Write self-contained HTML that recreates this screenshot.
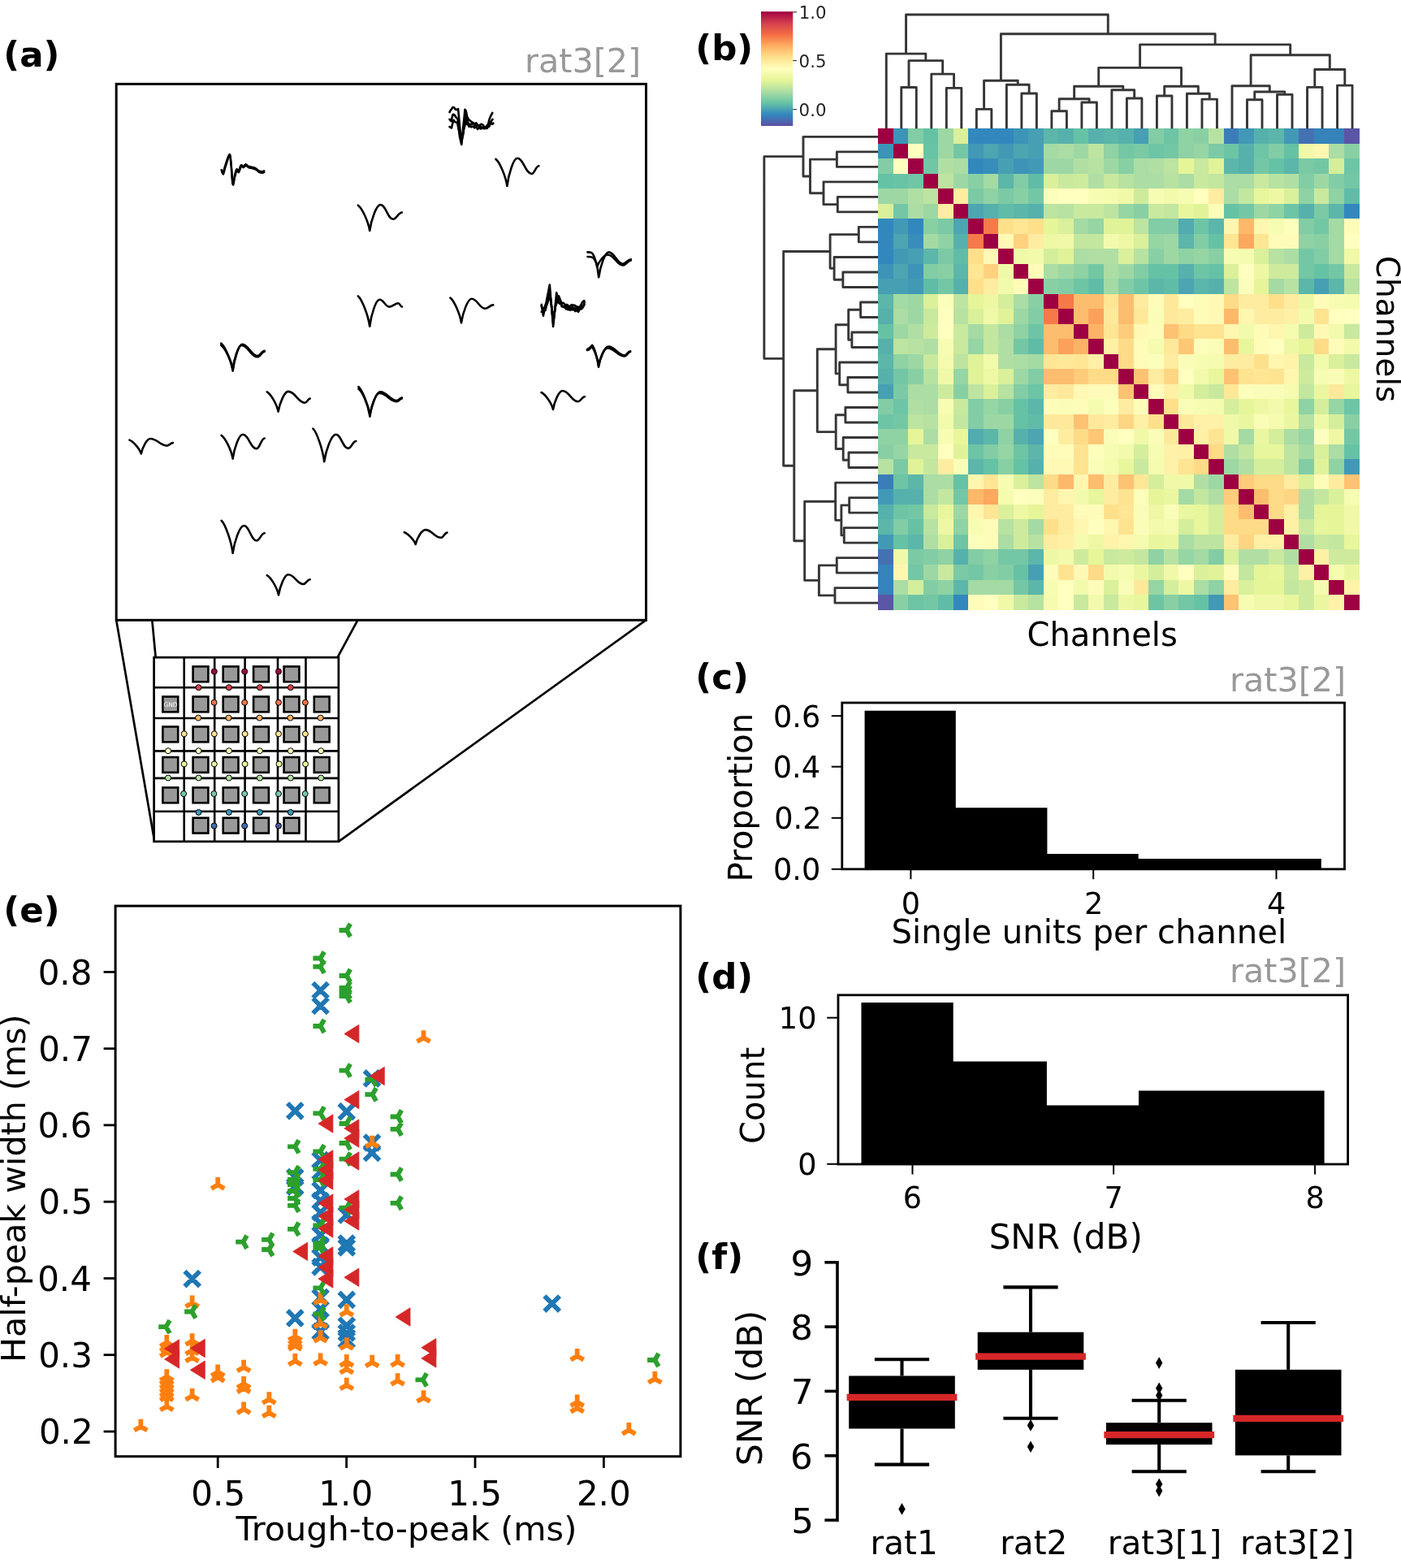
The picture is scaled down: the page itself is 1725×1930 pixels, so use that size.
<!DOCTYPE html>
<html><head><meta charset="utf-8"><title>Figure</title>
<style>html,body{margin:0;padding:0;background:#fff;}svg{display:block;}</style>
</head><body>
<svg xmlns="http://www.w3.org/2000/svg" width="1725" height="1930" viewBox="0 0 1725 1930">
<rect width="1725" height="1930" fill="#fff"/>
<rect x="143.2" y="103.4" width="652.3" height="659.9" fill="none" stroke="#000" stroke-width="3.0"/>
<g fill="none" stroke="#000" stroke-width="2.6" stroke-linejoin="round" stroke-linecap="round">
<path d="M610.50,195.90 C614.95,199.21 622.59,216.42 624.40,229.00 C626.16,214.64 632.21,194.80 637.00,194.80 C644.39,194.80 647.21,214.00 654.60,214.00 C658.12,214.00 659.88,204.30 663.40,204.30"/>
<path d="M440.90,252.70 C445.48,255.83 453.34,272.11 455.20,284.00 C457.06,270.56 463.45,252.00 468.50,252.00 C474.97,252.00 477.43,269.70 483.90,269.70 C488.30,269.70 490.50,261.50 494.90,261.50"/>
<path d="M723.50,310.40 L727.00,310.60 C731.59,310.60 735.87,327.49 737.20,341.30 C738.92,328.32 744.83,310.40 749.50,310.40 C756.81,310.40 759.59,324.80 766.90,324.80 C770.86,324.80 772.84,319.30 776.80,319.30"/>
<path d="M723.50,316.00 L727.50,316.20 C731.10,316.20 734.46,322.69 735.50,328.00 C737.32,321.91 743.56,313.50 748.50,313.50 C756.23,313.50 759.17,326.50 766.90,326.50 C770.86,326.50 772.84,320.50 776.80,320.50"/>
<path d="M440.90,364.40 C445.48,368.14 453.34,387.59 455.20,401.80 C456.91,387.94 462.76,368.80 467.40,368.80 C472.48,368.80 474.42,377.60 479.50,377.60 C483.90,377.60 486.10,373.20 490.50,373.20 C492.26,373.20 493.14,377.60 494.90,377.60"/>
<path d="M554.40,366.60 C558.75,369.68 566.23,385.70 568.00,397.40 C569.79,384.93 575.94,367.70 580.80,367.70 C587.73,367.70 590.37,379.80 597.30,379.80 C601.26,379.80 603.24,375.40 607.20,375.40"/>
<path d="M272.20,422.60 C276.81,426.00 284.73,443.68 286.60,456.60 C288.24,442.78 293.85,423.70 298.30,423.70 C306.07,423.70 309.03,438.10 316.80,438.10 C320.36,438.10 322.14,431.90 325.70,431.90"/>
<path d="M272.20,425.00 C276.81,428.00 284.73,443.60 286.60,455.00 C288.13,442.40 293.36,425.00 297.50,425.00 C305.61,425.00 308.69,439.30 316.80,439.30 C320.36,439.30 322.14,432.80 325.70,432.80"/>
<path d="M723.00,430.00 C723.42,429.75 724.48,429.37 725.50,428.50 C726.52,427.63 728.50,425.42 729.10,424.80 C731.63,427.49 735.97,441.48 737.00,451.70 C738.69,441.12 744.50,426.50 749.10,426.50 C757.50,426.50 760.70,437.50 769.10,437.50 C771.90,437.50 773.30,432.30 776.10,432.30"/>
<path d="M723.00,431.00 C723.42,430.83 724.58,430.75 725.50,430.00 C726.42,429.25 728.00,427.08 728.50,426.50 C731.22,428.85 735.89,441.07 737.00,450.00 C738.54,440.97 743.82,428.50 748.00,428.50 C756.86,428.50 760.24,438.50 769.10,438.50 C771.90,438.50 773.30,433.00 776.10,433.00"/>
<path d="M328.80,482.30 C333.22,484.73 340.81,497.37 342.60,506.60 C344.32,496.23 350.23,481.90 354.90,481.90 C363.55,481.90 366.85,495.70 375.50,495.70 C377.98,495.70 379.22,490.60 381.70,490.60"/>
<path d="M441.40,476.10 C445.88,479.77 453.58,498.85 455.40,512.80 C457.18,499.99 463.27,482.30 468.10,482.30 C476.75,482.30 480.05,493.00 488.70,493.00 C491.18,493.00 492.42,489.50 494.90,489.50"/>
<path d="M441.40,478.50 C445.88,481.75 453.58,498.65 455.40,511.00 C457.07,499.66 462.78,484.00 467.30,484.00 C476.29,484.00 479.71,494.30 488.70,494.30 C491.18,494.30 492.42,490.50 494.90,490.50"/>
<path d="M666.50,483.00 C671.14,485.09 679.12,495.96 681.00,503.90 C682.62,494.28 688.19,481.00 692.60,481.00 C700.62,481.00 703.68,494.30 711.70,494.30 C714.98,494.30 716.62,488.30 719.90,488.30"/>
<path d="M159.40,541.60 C164.01,543.29 171.93,552.08 173.80,558.50 C175.38,550.73 180.81,540.00 185.10,540.00 C193.75,540.00 197.05,548.60 205.70,548.60 C208.58,548.60 210.02,545.10 212.90,545.10"/>
<path d="M272.60,535.80 C277.08,538.68 284.78,553.66 286.60,564.60 C288.32,552.08 294.23,534.80 298.90,534.80 C306.00,534.80 308.70,552.30 315.80,552.30 C319.76,552.30 321.74,539.50 325.70,539.50"/>
<path d="M385.40,527.60 C389.82,531.67 397.41,552.83 399.20,568.30 C401.22,554.23 408.13,534.80 413.60,534.80 C419.90,534.80 422.30,551.90 428.60,551.90 C432.48,551.90 434.42,543.00 438.30,543.00"/>
<path d="M272.60,640.80 C277.08,644.81 284.78,665.66 286.60,680.90 C288.53,666.66 295.16,647.00 300.40,647.00 C306.87,647.00 309.33,665.50 315.80,665.50 C319.76,665.50 321.74,656.20 325.70,656.20"/>
<path d="M497.80,655.20 C502.25,656.68 509.89,664.38 511.70,670.00 C513.41,662.48 519.26,652.10 523.90,652.10 C531.92,652.10 534.98,661.80 543.00,661.80 C546.00,661.80 547.50,655.60 550.50,655.60"/>
<path d="M328.80,708.10 C333.34,710.53 341.15,723.17 343.00,732.40 C344.67,721.86 350.38,707.30 354.90,707.30 C362.67,707.30 365.63,719.00 373.40,719.00 C376.72,719.00 378.38,713.20 381.70,713.20"/>
<path d="M272.70,209.20 C273.03,209.82 273.95,213.70 274.70,212.90 C275.45,212.10 275.90,208.20 277.20,204.40 C278.50,200.60 281.28,190.45 282.50,190.10 C283.72,189.75 283.83,196.33 284.50,202.30 C285.17,208.27 285.77,223.53 286.50,225.90 C287.23,228.27 288.08,219.42 288.90,216.50 C289.72,213.58 290.58,209.35 291.40,208.40 C292.22,207.45 292.92,211.62 293.80,210.80 C294.68,209.98 295.75,204.50 296.70,203.50 C297.65,202.50 298.50,205.00 299.50,204.80 C300.50,204.60 301.68,202.30 302.70,202.30 C303.72,202.30 304.23,204.18 305.60,204.80 C306.97,205.42 309.28,205.53 310.90,206.00 C312.52,206.47 314.02,206.87 315.30,207.60 C316.58,208.33 317.32,209.78 318.60,210.40 C319.88,211.02 321.92,211.30 323.00,211.30 C324.08,211.30 324.75,210.55 325.10,210.40"/>
<path d="M273.00,210.70 C273.33,211.32 274.25,215.20 275.00,214.40 C275.75,213.60 276.20,209.70 277.50,205.90 C278.80,202.10 281.58,191.95 282.80,191.60 C284.02,191.25 284.13,197.83 284.80,203.80 C285.47,209.77 286.07,225.03 286.80,227.40 C287.53,229.77 288.38,220.92 289.20,218.00 C290.02,215.08 290.88,210.85 291.70,209.90 C292.52,208.95 293.22,213.12 294.10,212.30 C294.98,211.48 296.05,206.00 297.00,205.00 C297.95,204.00 298.80,206.50 299.80,206.30 C300.80,206.10 301.98,203.80 303.00,203.80 C304.02,203.80 304.53,205.68 305.90,206.30 C307.27,206.92 309.58,207.03 311.20,207.50 C312.82,207.97 314.32,208.37 315.60,209.10 C316.88,209.83 317.62,211.28 318.90,211.90 C320.18,212.52 322.22,212.80 323.30,212.80 C324.38,212.80 325.05,212.05 325.40,211.90" stroke-width="2.2"/>
<path d="M553.50,138.19 L554.75,135.82 L556.00,134.20 L557.50,131.99 L559.00,132.31 L561.00,134.84 L562.55,134.90 L564.10,134.12 L566.50,160.05 L568.30,177.95 L570.00,159.35 L571.25,147.93 L572.50,134.79 L573.75,136.57 L575.00,142.94 L577.00,147.27 L578.50,148.19 L580.00,149.44 L581.25,150.95 L582.50,150.89 L583.75,151.98 L585.00,152.42 L586.25,151.30 L587.50,153.20 L588.75,154.00 L590.00,154.22 L591.25,153.79 L592.50,152.82 L593.75,153.21 L595.00,154.05 L596.70,157.15 L598.40,156.49 L599.70,154.15 L601.00,153.04 L602.50,147.02 L604.00,143.13 L606.30,138.83"/>
<path d="M553.50,146.88 L555.50,149.16 L557.50,141.10 L558.75,140.91 L560.00,142.02 L561.75,144.73 L563.50,146.18 L564.75,157.53 L566.00,168.34 L568.00,176.76 L569.25,169.44 L570.50,164.49 L571.75,151.44 L573.00,140.81 L574.25,145.50 L575.50,148.81 L576.75,152.25 L578.00,153.21 L579.33,152.73 L580.67,152.97 L582.00,152.11 L583.25,152.24 L584.50,154.07 L585.75,153.35 L587.00,154.19 L588.25,154.58 L589.50,154.28 L590.75,155.66 L592.00,155.85 L593.25,157.39 L594.50,157.05 L595.75,157.86 L597.00,158.00 L598.50,157.42 L600.00,155.89 L601.50,152.42 L603.00,151.29 L604.75,149.29 L606.50,146.88"/>
<path d="M553.50,155.93 L554.75,156.91 L556.00,157.43 L557.25,152.07 L558.50,147.73 L559.75,149.67 L561.00,150.41 L563.00,150.81 L564.50,158.00 L566.00,165.26 L568.30,172.15 L569.65,166.42 L571.00,159.08 L572.25,154.84 L573.50,149.12 L574.75,153.06 L576.00,152.85 L577.50,155.83 L579.00,154.89 L580.33,156.49 L581.67,155.58 L583.00,155.75 L584.25,157.39 L585.50,155.75 L586.75,156.36 L588.00,159.08 L589.25,157.77 L590.50,156.44 L591.75,158.52 L593.00,158.16 L594.33,156.66 L595.67,158.13 L597.00,158.05 L598.33,157.85 L599.67,157.98 L601.00,156.13 L602.33,155.85 L603.67,152.50 L605.00,151.15 L606.25,152.82 L607.50,151.74"/>
<path d="M666.70,374.92 L668.90,388.65 L671.00,379.07 L672.25,374.62 L673.50,367.04 L675.15,359.04 L676.80,350.62 L679.00,376.49 L681.10,401.99 L683.00,383.68 L685.20,360.35 L686.60,365.33 L688.00,364.41 L689.50,368.28 L691.00,373.80 L692.33,372.80 L693.67,372.83 L695.00,374.27 L696.25,376.88 L697.50,374.84 L698.75,375.46 L700.00,376.51 L701.25,377.47 L702.50,376.47 L703.75,375.08 L705.00,377.29 L706.25,375.39 L707.50,375.88 L708.75,376.51 L710.00,378.77 L711.33,377.47 L712.67,379.43 L714.00,377.65 L715.50,374.97 L717.00,372.09 L719.30,370.02"/>
<path d="M666.70,376.66 L668.50,382.76 L669.75,380.04 L671.00,376.92 L672.25,373.36 L673.50,373.17 L675.00,364.73 L676.50,355.05 L677.75,366.52 L679.00,376.94 L681.00,396.01 L682.25,388.48 L683.50,380.34 L684.75,370.28 L686.00,365.18 L687.50,365.93 L689.00,368.93 L690.50,370.67 L692.00,376.99 L693.33,376.95 L694.67,378.50 L696.00,378.46 L697.25,376.39 L698.50,377.82 L699.75,378.74 L701.00,377.46 L702.25,381.06 L703.50,378.97 L704.75,378.37 L706.00,381.27 L707.25,378.75 L708.50,382.21 L709.75,380.56 L711.00,381.21 L712.33,380.04 L713.67,380.27 L715.00,378.75 L716.50,376.15 L718.00,377.46 L719.80,371.94"/>
<path d="M666.70,383.83 L669.00,384.56 L670.25,381.09 L671.50,381.99 L672.75,376.24 L674.00,373.48 L675.50,368.11 L677.00,359.38 L678.25,371.56 L679.50,378.93 L681.20,397.84 L682.60,385.28 L684.00,376.40 L685.25,373.73 L686.50,368.74 L687.75,372.20 L689.00,373.83 L690.33,372.53 L691.67,377.19 L693.00,377.36 L694.33,376.91 L695.67,377.09 L697.00,380.40 L698.25,379.58 L699.50,381.25 L700.75,380.85 L702.00,381.84 L703.25,380.52 L704.50,381.29 L705.75,381.20 L707.00,380.03 L708.25,383.08 L709.50,380.75 L710.75,382.87 L712.00,383.82 L713.33,381.60 L714.67,378.57 L716.00,380.30 L717.75,378.17 L719.50,374.74"/>
</g>
<g stroke="#000" stroke-width="2.7" fill="none">
<line x1="143.2" y1="763.3" x2="190.3" y2="1035.8"/>
<line x1="187.3" y1="763.2" x2="191.6" y2="808.7"/>
<line x1="440.5" y1="763.2" x2="415.9" y2="808.7"/>
<line x1="795.5" y1="763.2" x2="416.9" y2="1035.8"/>
</g>
<rect x="189.6" y="809.2" width="227.3" height="226.6" fill="#fff" stroke="#000" stroke-width="2.7"/>
<g stroke="#000" stroke-width="2.6">
<line x1="226.7" y1="808.7" x2="226.7" y2="1035.8"/>
<line x1="264.2" y1="808.7" x2="264.2" y2="1035.8"/>
<line x1="301.6" y1="808.7" x2="301.6" y2="1035.8"/>
<line x1="342.0" y1="808.7" x2="342.0" y2="1035.8"/>
<line x1="376.5" y1="808.7" x2="376.5" y2="1035.8"/>
<line x1="189.3" y1="846.2" x2="416.9" y2="846.2"/>
<line x1="189.3" y1="884.0" x2="416.9" y2="884.0"/>
<line x1="189.3" y1="924.4" x2="416.9" y2="924.4"/>
<line x1="189.3" y1="957.9" x2="416.9" y2="957.9"/>
<line x1="189.3" y1="998.7" x2="416.9" y2="998.7"/>
</g>
<g fill="#999" stroke="#000" stroke-width="2.6">
<rect x="237.6" y="820.4" width="18.8" height="18.8"/>
<rect x="274.7" y="820.4" width="18.8" height="18.8"/>
<rect x="312.1" y="820.4" width="18.8" height="18.8"/>
<rect x="349.6" y="820.4" width="18.8" height="18.8"/>
<rect x="200.4" y="857.5" width="18.8" height="18.8"/>
<rect x="237.6" y="857.5" width="18.8" height="18.8"/>
<rect x="274.7" y="857.5" width="18.8" height="18.8"/>
<rect x="312.1" y="857.5" width="18.8" height="18.8"/>
<rect x="349.6" y="857.5" width="18.8" height="18.8"/>
<rect x="386.8" y="857.5" width="18.8" height="18.8"/>
<rect x="200.4" y="894.5" width="18.8" height="18.8"/>
<rect x="237.6" y="894.5" width="18.8" height="18.8"/>
<rect x="274.7" y="894.5" width="18.8" height="18.8"/>
<rect x="312.1" y="894.5" width="18.8" height="18.8"/>
<rect x="349.6" y="894.5" width="18.8" height="18.8"/>
<rect x="386.8" y="894.5" width="18.8" height="18.8"/>
<rect x="200.4" y="932.0" width="18.8" height="18.8"/>
<rect x="237.6" y="932.0" width="18.8" height="18.8"/>
<rect x="274.7" y="932.0" width="18.8" height="18.8"/>
<rect x="312.1" y="932.0" width="18.8" height="18.8"/>
<rect x="349.6" y="932.0" width="18.8" height="18.8"/>
<rect x="386.8" y="932.0" width="18.8" height="18.8"/>
<rect x="200.4" y="969.4" width="18.8" height="18.8"/>
<rect x="237.6" y="969.4" width="18.8" height="18.8"/>
<rect x="274.7" y="969.4" width="18.8" height="18.8"/>
<rect x="312.1" y="969.4" width="18.8" height="18.8"/>
<rect x="349.6" y="969.4" width="18.8" height="18.8"/>
<rect x="386.8" y="969.4" width="18.8" height="18.8"/>
<rect x="237.6" y="1006.7" width="18.8" height="18.8"/>
<rect x="274.7" y="1006.7" width="18.8" height="18.8"/>
<rect x="312.1" y="1006.7" width="18.8" height="18.8"/>
<rect x="349.6" y="1006.7" width="18.8" height="18.8"/>
</g>
<text x="210" y="869.8" font-family="DejaVu Sans" font-size="7.5" fill="#fff" style="stroke:none" text-anchor="middle">GND</text>
<g stroke="#000" stroke-width="1">
<circle cx="263.8" cy="826.5" r="3.5" fill="#a0073f"/>
<circle cx="301.2" cy="826.5" r="3.5" fill="#a0073f"/>
<circle cx="343.0" cy="826.5" r="3.5" fill="#a0073f"/>
<circle cx="244.5" cy="846.2" r="3.5" fill="#d8434e"/>
<circle cx="281.9" cy="846.2" r="3.5" fill="#d8434e"/>
<circle cx="319.9" cy="846.2" r="3.5" fill="#d8434e"/>
<circle cx="357.8" cy="846.2" r="3.5" fill="#d8434e"/>
<circle cx="263.6" cy="864.7" r="3.5" fill="#f57446"/>
<circle cx="301.2" cy="864.7" r="3.5" fill="#f57446"/>
<circle cx="343.0" cy="864.7" r="3.5" fill="#f57446"/>
<circle cx="375.9" cy="864.7" r="3.5" fill="#f57446"/>
<circle cx="244.1" cy="883.6" r="3.5" fill="#fdb466"/>
<circle cx="281.5" cy="883.6" r="3.5" fill="#fdb466"/>
<circle cx="319.5" cy="883.6" r="3.5" fill="#fdb466"/>
<circle cx="357.4" cy="883.6" r="3.5" fill="#fdb466"/>
<circle cx="394.6" cy="883.6" r="3.5" fill="#fdb466"/>
<circle cx="226.7" cy="903.3" r="3.5" fill="#fee391"/>
<circle cx="263.8" cy="903.3" r="3.5" fill="#fee391"/>
<circle cx="301.6" cy="903.3" r="3.5" fill="#fee391"/>
<circle cx="343.0" cy="903.3" r="3.5" fill="#fee391"/>
<circle cx="375.9" cy="903.3" r="3.5" fill="#fee391"/>
<circle cx="207.0" cy="924.2" r="3.5" fill="#fcfdbf"/>
<circle cx="244.5" cy="924.2" r="3.5" fill="#fcfdbf"/>
<circle cx="281.9" cy="924.2" r="3.5" fill="#fcfdbf"/>
<circle cx="319.9" cy="924.2" r="3.5" fill="#fcfdbf"/>
<circle cx="357.8" cy="924.2" r="3.5" fill="#fcfdbf"/>
<circle cx="395.2" cy="924.2" r="3.5" fill="#fcfdbf"/>
<circle cx="226.7" cy="940.4" r="3.5" fill="#e9f59d"/>
<circle cx="263.8" cy="940.4" r="3.5" fill="#e9f59d"/>
<circle cx="301.6" cy="940.4" r="3.5" fill="#e9f59d"/>
<circle cx="343.6" cy="940.4" r="3.5" fill="#e9f59d"/>
<circle cx="376.1" cy="940.4" r="3.5" fill="#e9f59d"/>
<circle cx="207.0" cy="957.5" r="3.5" fill="#b4e1a2"/>
<circle cx="244.5" cy="957.5" r="3.5" fill="#b4e1a2"/>
<circle cx="281.9" cy="957.5" r="3.5" fill="#b4e1a2"/>
<circle cx="319.9" cy="957.5" r="3.5" fill="#b4e1a2"/>
<circle cx="357.8" cy="957.5" r="3.5" fill="#b4e1a2"/>
<circle cx="395.2" cy="957.5" r="3.5" fill="#b4e1a2"/>
<circle cx="226.1" cy="977.0" r="3.5" fill="#78cba6"/>
<circle cx="263.4" cy="977.0" r="3.5" fill="#78cba6"/>
<circle cx="301.2" cy="977.0" r="3.5" fill="#78cba6"/>
<circle cx="343.0" cy="977.0" r="3.5" fill="#78cba6"/>
<circle cx="375.7" cy="977.0" r="3.5" fill="#78cba6"/>
<circle cx="244.5" cy="999.9" r="3.5" fill="#3c99b9"/>
<circle cx="281.9" cy="999.9" r="3.5" fill="#3c99b9"/>
<circle cx="319.9" cy="999.9" r="3.5" fill="#3c99b9"/>
<circle cx="357.8" cy="999.9" r="3.5" fill="#3c99b9"/>
<circle cx="263.6" cy="1016.5" r="3.5" fill="#3d6fb4"/>
<circle cx="301.2" cy="1016.5" r="3.5" fill="#3d6fb4"/>
<circle cx="343.0" cy="1016.5" r="3.5" fill="#4f55a2"/>
</g>
<g shape-rendering="crispEdges">
<rect x="1081.10" y="158.20" width="18.81" height="18.81" fill="#9e0142"/>
<rect x="1099.61" y="158.20" width="18.81" height="18.81" fill="#3c94b8"/>
<rect x="1118.12" y="158.20" width="18.81" height="18.81" fill="#82cda5"/>
<rect x="1136.63" y="158.20" width="18.81" height="18.81" fill="#66c2a5"/>
<rect x="1155.14" y="158.20" width="18.81" height="18.81" fill="#9dd8a4"/>
<rect x="1173.65" y="158.20" width="18.81" height="18.81" fill="#daf09a"/>
<rect x="1192.16" y="158.20" width="18.81" height="18.81" fill="#3288bd"/>
<rect x="1210.67" y="158.20" width="18.81" height="18.81" fill="#3288bd"/>
<rect x="1229.18" y="158.20" width="18.81" height="18.81" fill="#3288bd"/>
<rect x="1247.69" y="158.20" width="18.81" height="18.81" fill="#3c94b8"/>
<rect x="1266.20" y="158.20" width="18.81" height="18.81" fill="#479fb3"/>
<rect x="1284.71" y="158.20" width="18.81" height="18.81" fill="#5cb6aa"/>
<rect x="1303.22" y="158.20" width="18.81" height="18.81" fill="#56b1ac"/>
<rect x="1321.73" y="158.20" width="18.81" height="18.81" fill="#66c2a5"/>
<rect x="1340.24" y="158.20" width="18.81" height="18.81" fill="#56b1ac"/>
<rect x="1358.75" y="158.20" width="18.81" height="18.81" fill="#5cb6aa"/>
<rect x="1377.26" y="158.20" width="18.81" height="18.81" fill="#56b1ac"/>
<rect x="1395.77" y="158.20" width="18.81" height="18.81" fill="#479fb3"/>
<rect x="1414.28" y="158.20" width="18.81" height="18.81" fill="#82cda5"/>
<rect x="1432.79" y="158.20" width="18.81" height="18.81" fill="#6dc5a5"/>
<rect x="1451.30" y="158.20" width="18.81" height="18.81" fill="#8fd2a4"/>
<rect x="1469.81" y="158.20" width="18.81" height="18.81" fill="#88d0a4"/>
<rect x="1488.32" y="158.20" width="18.81" height="18.81" fill="#b7e2a2"/>
<rect x="1506.83" y="158.20" width="18.81" height="18.81" fill="#3b7db8"/>
<rect x="1525.34" y="158.20" width="18.81" height="18.81" fill="#4299b6"/>
<rect x="1543.85" y="158.20" width="18.81" height="18.81" fill="#56b1ac"/>
<rect x="1562.36" y="158.20" width="18.81" height="18.81" fill="#5cb6aa"/>
<rect x="1580.87" y="158.20" width="18.81" height="18.81" fill="#4299b6"/>
<rect x="1599.38" y="158.20" width="18.81" height="18.81" fill="#4471b2"/>
<rect x="1617.89" y="158.20" width="18.81" height="18.81" fill="#3682ba"/>
<rect x="1636.40" y="158.20" width="18.81" height="18.81" fill="#3682ba"/>
<rect x="1654.91" y="158.20" width="18.81" height="18.81" fill="#5a55a5"/>
<rect x="1081.10" y="176.71" width="18.81" height="18.81" fill="#3c94b8"/>
<rect x="1099.61" y="176.71" width="18.81" height="18.81" fill="#9e0142"/>
<rect x="1118.12" y="176.71" width="18.81" height="18.81" fill="#ffffbf"/>
<rect x="1136.63" y="176.71" width="18.81" height="18.81" fill="#69c3a5"/>
<rect x="1155.14" y="176.71" width="18.81" height="18.81" fill="#9dd8a4"/>
<rect x="1173.65" y="176.71" width="18.81" height="18.81" fill="#74c7a5"/>
<rect x="1192.16" y="176.71" width="18.81" height="18.81" fill="#4299b6"/>
<rect x="1210.67" y="176.71" width="18.81" height="18.81" fill="#4ca5b1"/>
<rect x="1229.18" y="176.71" width="18.81" height="18.81" fill="#4299b6"/>
<rect x="1247.69" y="176.71" width="18.81" height="18.81" fill="#4ca5b1"/>
<rect x="1266.20" y="176.71" width="18.81" height="18.81" fill="#479fb3"/>
<rect x="1284.71" y="176.71" width="18.81" height="18.81" fill="#a4daa4"/>
<rect x="1303.22" y="176.71" width="18.81" height="18.81" fill="#abdda4"/>
<rect x="1321.73" y="176.71" width="18.81" height="18.81" fill="#9dd8a4"/>
<rect x="1340.24" y="176.71" width="18.81" height="18.81" fill="#bde4a0"/>
<rect x="1358.75" y="176.71" width="18.81" height="18.81" fill="#8fd2a4"/>
<rect x="1377.26" y="176.71" width="18.81" height="18.81" fill="#74c7a5"/>
<rect x="1395.77" y="176.71" width="18.81" height="18.81" fill="#7bcaa5"/>
<rect x="1414.28" y="176.71" width="18.81" height="18.81" fill="#6dc5a5"/>
<rect x="1432.79" y="176.71" width="18.81" height="18.81" fill="#74c7a5"/>
<rect x="1451.30" y="176.71" width="18.81" height="18.81" fill="#8fd2a4"/>
<rect x="1469.81" y="176.71" width="18.81" height="18.81" fill="#96d5a4"/>
<rect x="1488.32" y="176.71" width="18.81" height="18.81" fill="#7bcaa5"/>
<rect x="1506.83" y="176.71" width="18.81" height="18.81" fill="#6dc5a5"/>
<rect x="1525.34" y="176.71" width="18.81" height="18.81" fill="#56b1ac"/>
<rect x="1543.85" y="176.71" width="18.81" height="18.81" fill="#6dc5a5"/>
<rect x="1562.36" y="176.71" width="18.81" height="18.81" fill="#82cda5"/>
<rect x="1580.87" y="176.71" width="18.81" height="18.81" fill="#66c2a5"/>
<rect x="1599.38" y="176.71" width="18.81" height="18.81" fill="#f0f9a8"/>
<rect x="1617.89" y="176.71" width="18.81" height="18.81" fill="#fff6af"/>
<rect x="1636.40" y="176.71" width="18.81" height="18.81" fill="#abdda4"/>
<rect x="1654.91" y="176.71" width="18.81" height="18.81" fill="#88d0a4"/>
<rect x="1081.10" y="195.22" width="18.81" height="18.81" fill="#82cda5"/>
<rect x="1099.61" y="195.22" width="18.81" height="18.81" fill="#ffffbf"/>
<rect x="1118.12" y="195.22" width="18.81" height="18.81" fill="#9e0142"/>
<rect x="1136.63" y="195.22" width="18.81" height="18.81" fill="#70c6a5"/>
<rect x="1155.14" y="195.22" width="18.81" height="18.81" fill="#b1dfa3"/>
<rect x="1173.65" y="195.22" width="18.81" height="18.81" fill="#abdda4"/>
<rect x="1192.16" y="195.22" width="18.81" height="18.81" fill="#3288bd"/>
<rect x="1210.67" y="195.22" width="18.81" height="18.81" fill="#378ebb"/>
<rect x="1229.18" y="195.22" width="18.81" height="18.81" fill="#479fb3"/>
<rect x="1247.69" y="195.22" width="18.81" height="18.81" fill="#3c94b8"/>
<rect x="1266.20" y="195.22" width="18.81" height="18.81" fill="#4299b6"/>
<rect x="1284.71" y="195.22" width="18.81" height="18.81" fill="#9dd8a4"/>
<rect x="1303.22" y="195.22" width="18.81" height="18.81" fill="#9dd8a4"/>
<rect x="1321.73" y="195.22" width="18.81" height="18.81" fill="#b1dfa3"/>
<rect x="1340.24" y="195.22" width="18.81" height="18.81" fill="#b7e2a2"/>
<rect x="1358.75" y="195.22" width="18.81" height="18.81" fill="#9dd8a4"/>
<rect x="1377.26" y="195.22" width="18.81" height="18.81" fill="#88d0a4"/>
<rect x="1395.77" y="195.22" width="18.81" height="18.81" fill="#abdda4"/>
<rect x="1414.28" y="195.22" width="18.81" height="18.81" fill="#b1dfa3"/>
<rect x="1432.79" y="195.22" width="18.81" height="18.81" fill="#bde4a0"/>
<rect x="1451.30" y="195.22" width="18.81" height="18.81" fill="#e6f598"/>
<rect x="1469.81" y="195.22" width="18.81" height="18.81" fill="#c8e99e"/>
<rect x="1488.32" y="195.22" width="18.81" height="18.81" fill="#e0f399"/>
<rect x="1506.83" y="195.22" width="18.81" height="18.81" fill="#5cb6aa"/>
<rect x="1525.34" y="195.22" width="18.81" height="18.81" fill="#56b1ac"/>
<rect x="1543.85" y="195.22" width="18.81" height="18.81" fill="#74c7a5"/>
<rect x="1562.36" y="195.22" width="18.81" height="18.81" fill="#66c2a5"/>
<rect x="1580.87" y="195.22" width="18.81" height="18.81" fill="#5cb6aa"/>
<rect x="1599.38" y="195.22" width="18.81" height="18.81" fill="#7bcaa5"/>
<rect x="1617.89" y="195.22" width="18.81" height="18.81" fill="#74c7a5"/>
<rect x="1636.40" y="195.22" width="18.81" height="18.81" fill="#d4ee9c"/>
<rect x="1654.91" y="195.22" width="18.81" height="18.81" fill="#6dc5a5"/>
<rect x="1081.10" y="213.73" width="18.81" height="18.81" fill="#66c2a5"/>
<rect x="1099.61" y="213.73" width="18.81" height="18.81" fill="#69c3a5"/>
<rect x="1118.12" y="213.73" width="18.81" height="18.81" fill="#70c6a5"/>
<rect x="1136.63" y="213.73" width="18.81" height="18.81" fill="#9e0142"/>
<rect x="1155.14" y="213.73" width="18.81" height="18.81" fill="#bde4a0"/>
<rect x="1173.65" y="213.73" width="18.81" height="18.81" fill="#9dd8a4"/>
<rect x="1192.16" y="213.73" width="18.81" height="18.81" fill="#88d0a4"/>
<rect x="1210.67" y="213.73" width="18.81" height="18.81" fill="#a4daa4"/>
<rect x="1229.18" y="213.73" width="18.81" height="18.81" fill="#5cb6aa"/>
<rect x="1247.69" y="213.73" width="18.81" height="18.81" fill="#82cda5"/>
<rect x="1266.20" y="213.73" width="18.81" height="18.81" fill="#61bca7"/>
<rect x="1284.71" y="213.73" width="18.81" height="18.81" fill="#daf09a"/>
<rect x="1303.22" y="213.73" width="18.81" height="18.81" fill="#c8e99e"/>
<rect x="1321.73" y="213.73" width="18.81" height="18.81" fill="#ceeb9d"/>
<rect x="1340.24" y="213.73" width="18.81" height="18.81" fill="#b1dfa3"/>
<rect x="1358.75" y="213.73" width="18.81" height="18.81" fill="#c8e99e"/>
<rect x="1377.26" y="213.73" width="18.81" height="18.81" fill="#b7e2a2"/>
<rect x="1395.77" y="213.73" width="18.81" height="18.81" fill="#abdda4"/>
<rect x="1414.28" y="213.73" width="18.81" height="18.81" fill="#abdda4"/>
<rect x="1432.79" y="213.73" width="18.81" height="18.81" fill="#b7e2a2"/>
<rect x="1451.30" y="213.73" width="18.81" height="18.81" fill="#abdda4"/>
<rect x="1469.81" y="213.73" width="18.81" height="18.81" fill="#c8e99e"/>
<rect x="1488.32" y="213.73" width="18.81" height="18.81" fill="#c3e79f"/>
<rect x="1506.83" y="213.73" width="18.81" height="18.81" fill="#abdda4"/>
<rect x="1525.34" y="213.73" width="18.81" height="18.81" fill="#abdda4"/>
<rect x="1543.85" y="213.73" width="18.81" height="18.81" fill="#c8e99e"/>
<rect x="1562.36" y="213.73" width="18.81" height="18.81" fill="#b7e2a2"/>
<rect x="1580.87" y="213.73" width="18.81" height="18.81" fill="#b1dfa3"/>
<rect x="1599.38" y="213.73" width="18.81" height="18.81" fill="#82cda5"/>
<rect x="1617.89" y="213.73" width="18.81" height="18.81" fill="#9dd8a4"/>
<rect x="1636.40" y="213.73" width="18.81" height="18.81" fill="#82cda5"/>
<rect x="1654.91" y="213.73" width="18.81" height="18.81" fill="#74c7a5"/>
<rect x="1081.10" y="232.24" width="18.81" height="18.81" fill="#9dd8a4"/>
<rect x="1099.61" y="232.24" width="18.81" height="18.81" fill="#9dd8a4"/>
<rect x="1118.12" y="232.24" width="18.81" height="18.81" fill="#b1dfa3"/>
<rect x="1136.63" y="232.24" width="18.81" height="18.81" fill="#bde4a0"/>
<rect x="1155.14" y="232.24" width="18.81" height="18.81" fill="#9e0142"/>
<rect x="1173.65" y="232.24" width="18.81" height="18.81" fill="#feeca0"/>
<rect x="1192.16" y="232.24" width="18.81" height="18.81" fill="#7bcaa5"/>
<rect x="1210.67" y="232.24" width="18.81" height="18.81" fill="#8fd2a4"/>
<rect x="1229.18" y="232.24" width="18.81" height="18.81" fill="#7bcaa5"/>
<rect x="1247.69" y="232.24" width="18.81" height="18.81" fill="#88d0a4"/>
<rect x="1266.20" y="232.24" width="18.81" height="18.81" fill="#74c7a5"/>
<rect x="1284.71" y="232.24" width="18.81" height="18.81" fill="#fcfebb"/>
<rect x="1303.22" y="232.24" width="18.81" height="18.81" fill="#ffffbf"/>
<rect x="1321.73" y="232.24" width="18.81" height="18.81" fill="#ffffbf"/>
<rect x="1340.24" y="232.24" width="18.81" height="18.81" fill="#f7fcb3"/>
<rect x="1358.75" y="232.24" width="18.81" height="18.81" fill="#f5fbaf"/>
<rect x="1377.26" y="232.24" width="18.81" height="18.81" fill="#f0f9a8"/>
<rect x="1395.77" y="232.24" width="18.81" height="18.81" fill="#ceeb9d"/>
<rect x="1414.28" y="232.24" width="18.81" height="18.81" fill="#f7fcb3"/>
<rect x="1432.79" y="232.24" width="18.81" height="18.81" fill="#f2faac"/>
<rect x="1451.30" y="232.24" width="18.81" height="18.81" fill="#f7fcb3"/>
<rect x="1469.81" y="232.24" width="18.81" height="18.81" fill="#ffffbf"/>
<rect x="1488.32" y="232.24" width="18.81" height="18.81" fill="#feeca0"/>
<rect x="1506.83" y="232.24" width="18.81" height="18.81" fill="#abdda4"/>
<rect x="1525.34" y="232.24" width="18.81" height="18.81" fill="#c3e79f"/>
<rect x="1543.85" y="232.24" width="18.81" height="18.81" fill="#e8f69c"/>
<rect x="1562.36" y="232.24" width="18.81" height="18.81" fill="#eef8a4"/>
<rect x="1580.87" y="232.24" width="18.81" height="18.81" fill="#daf09a"/>
<rect x="1599.38" y="232.24" width="18.81" height="18.81" fill="#8fd2a4"/>
<rect x="1617.89" y="232.24" width="18.81" height="18.81" fill="#c8e99e"/>
<rect x="1636.40" y="232.24" width="18.81" height="18.81" fill="#8fd2a4"/>
<rect x="1654.91" y="232.24" width="18.81" height="18.81" fill="#61bca7"/>
<rect x="1081.10" y="250.75" width="18.81" height="18.81" fill="#daf09a"/>
<rect x="1099.61" y="250.75" width="18.81" height="18.81" fill="#74c7a5"/>
<rect x="1118.12" y="250.75" width="18.81" height="18.81" fill="#abdda4"/>
<rect x="1136.63" y="250.75" width="18.81" height="18.81" fill="#9dd8a4"/>
<rect x="1155.14" y="250.75" width="18.81" height="18.81" fill="#feeca0"/>
<rect x="1173.65" y="250.75" width="18.81" height="18.81" fill="#9e0142"/>
<rect x="1192.16" y="250.75" width="18.81" height="18.81" fill="#4ca5b1"/>
<rect x="1210.67" y="250.75" width="18.81" height="18.81" fill="#56b1ac"/>
<rect x="1229.18" y="250.75" width="18.81" height="18.81" fill="#61bca7"/>
<rect x="1247.69" y="250.75" width="18.81" height="18.81" fill="#5cb6aa"/>
<rect x="1266.20" y="250.75" width="18.81" height="18.81" fill="#56b1ac"/>
<rect x="1284.71" y="250.75" width="18.81" height="18.81" fill="#bde4a0"/>
<rect x="1303.22" y="250.75" width="18.81" height="18.81" fill="#b7e2a2"/>
<rect x="1321.73" y="250.75" width="18.81" height="18.81" fill="#c8e99e"/>
<rect x="1340.24" y="250.75" width="18.81" height="18.81" fill="#c8e99e"/>
<rect x="1358.75" y="250.75" width="18.81" height="18.81" fill="#bde4a0"/>
<rect x="1377.26" y="250.75" width="18.81" height="18.81" fill="#96d5a4"/>
<rect x="1395.77" y="250.75" width="18.81" height="18.81" fill="#88d0a4"/>
<rect x="1414.28" y="250.75" width="18.81" height="18.81" fill="#c8e99e"/>
<rect x="1432.79" y="250.75" width="18.81" height="18.81" fill="#c3e79f"/>
<rect x="1451.30" y="250.75" width="18.81" height="18.81" fill="#e8f69c"/>
<rect x="1469.81" y="250.75" width="18.81" height="18.81" fill="#e0f399"/>
<rect x="1488.32" y="250.75" width="18.81" height="18.81" fill="#fafdb7"/>
<rect x="1506.83" y="250.75" width="18.81" height="18.81" fill="#66c2a5"/>
<rect x="1525.34" y="250.75" width="18.81" height="18.81" fill="#74c7a5"/>
<rect x="1543.85" y="250.75" width="18.81" height="18.81" fill="#9dd8a4"/>
<rect x="1562.36" y="250.75" width="18.81" height="18.81" fill="#8fd2a4"/>
<rect x="1580.87" y="250.75" width="18.81" height="18.81" fill="#6dc5a5"/>
<rect x="1599.38" y="250.75" width="18.81" height="18.81" fill="#56b1ac"/>
<rect x="1617.89" y="250.75" width="18.81" height="18.81" fill="#7bcaa5"/>
<rect x="1636.40" y="250.75" width="18.81" height="18.81" fill="#5cb6aa"/>
<rect x="1654.91" y="250.75" width="18.81" height="18.81" fill="#3288bd"/>
<rect x="1081.10" y="269.26" width="18.81" height="18.81" fill="#3288bd"/>
<rect x="1099.61" y="269.26" width="18.81" height="18.81" fill="#4299b6"/>
<rect x="1118.12" y="269.26" width="18.81" height="18.81" fill="#3288bd"/>
<rect x="1136.63" y="269.26" width="18.81" height="18.81" fill="#88d0a4"/>
<rect x="1155.14" y="269.26" width="18.81" height="18.81" fill="#7bcaa5"/>
<rect x="1173.65" y="269.26" width="18.81" height="18.81" fill="#4ca5b1"/>
<rect x="1192.16" y="269.26" width="18.81" height="18.81" fill="#9e0142"/>
<rect x="1210.67" y="269.26" width="18.81" height="18.81" fill="#f67a49"/>
<rect x="1229.18" y="269.26" width="18.81" height="18.81" fill="#fee08b"/>
<rect x="1247.69" y="269.26" width="18.81" height="18.81" fill="#fee695"/>
<rect x="1266.20" y="269.26" width="18.81" height="18.81" fill="#fee08b"/>
<rect x="1284.71" y="269.26" width="18.81" height="18.81" fill="#e6f598"/>
<rect x="1303.22" y="269.26" width="18.81" height="18.81" fill="#daf09a"/>
<rect x="1321.73" y="269.26" width="18.81" height="18.81" fill="#a4daa4"/>
<rect x="1340.24" y="269.26" width="18.81" height="18.81" fill="#96d5a4"/>
<rect x="1358.75" y="269.26" width="18.81" height="18.81" fill="#e0f399"/>
<rect x="1377.26" y="269.26" width="18.81" height="18.81" fill="#e0f399"/>
<rect x="1395.77" y="269.26" width="18.81" height="18.81" fill="#bde4a0"/>
<rect x="1414.28" y="269.26" width="18.81" height="18.81" fill="#82cda5"/>
<rect x="1432.79" y="269.26" width="18.81" height="18.81" fill="#82cda5"/>
<rect x="1451.30" y="269.26" width="18.81" height="18.81" fill="#51abaf"/>
<rect x="1469.81" y="269.26" width="18.81" height="18.81" fill="#6dc5a5"/>
<rect x="1488.32" y="269.26" width="18.81" height="18.81" fill="#5cb6aa"/>
<rect x="1506.83" y="269.26" width="18.81" height="18.81" fill="#fff6af"/>
<rect x="1525.34" y="269.26" width="18.81" height="18.81" fill="#fdb869"/>
<rect x="1543.85" y="269.26" width="18.81" height="18.81" fill="#fff6af"/>
<rect x="1562.36" y="269.26" width="18.81" height="18.81" fill="#f7fcb3"/>
<rect x="1580.87" y="269.26" width="18.81" height="18.81" fill="#fcfebb"/>
<rect x="1599.38" y="269.26" width="18.81" height="18.81" fill="#82cda5"/>
<rect x="1617.89" y="269.26" width="18.81" height="18.81" fill="#74c7a5"/>
<rect x="1636.40" y="269.26" width="18.81" height="18.81" fill="#a4daa4"/>
<rect x="1654.91" y="269.26" width="18.81" height="18.81" fill="#fffcba"/>
<rect x="1081.10" y="287.77" width="18.81" height="18.81" fill="#3288bd"/>
<rect x="1099.61" y="287.77" width="18.81" height="18.81" fill="#4ca5b1"/>
<rect x="1118.12" y="287.77" width="18.81" height="18.81" fill="#378ebb"/>
<rect x="1136.63" y="287.77" width="18.81" height="18.81" fill="#a4daa4"/>
<rect x="1155.14" y="287.77" width="18.81" height="18.81" fill="#8fd2a4"/>
<rect x="1173.65" y="287.77" width="18.81" height="18.81" fill="#56b1ac"/>
<rect x="1192.16" y="287.77" width="18.81" height="18.81" fill="#f67a49"/>
<rect x="1210.67" y="287.77" width="18.81" height="18.81" fill="#9e0142"/>
<rect x="1229.18" y="287.77" width="18.81" height="18.81" fill="#fff9b5"/>
<rect x="1247.69" y="287.77" width="18.81" height="18.81" fill="#fed17e"/>
<rect x="1266.20" y="287.77" width="18.81" height="18.81" fill="#feeca0"/>
<rect x="1284.71" y="287.77" width="18.81" height="18.81" fill="#eef8a4"/>
<rect x="1303.22" y="287.77" width="18.81" height="18.81" fill="#f0f9a8"/>
<rect x="1321.73" y="287.77" width="18.81" height="18.81" fill="#c3e79f"/>
<rect x="1340.24" y="287.77" width="18.81" height="18.81" fill="#c3e79f"/>
<rect x="1358.75" y="287.77" width="18.81" height="18.81" fill="#f2faac"/>
<rect x="1377.26" y="287.77" width="18.81" height="18.81" fill="#eef8a4"/>
<rect x="1395.77" y="287.77" width="18.81" height="18.81" fill="#daf09a"/>
<rect x="1414.28" y="287.77" width="18.81" height="18.81" fill="#96d5a4"/>
<rect x="1432.79" y="287.77" width="18.81" height="18.81" fill="#9dd8a4"/>
<rect x="1451.30" y="287.77" width="18.81" height="18.81" fill="#5cb6aa"/>
<rect x="1469.81" y="287.77" width="18.81" height="18.81" fill="#82cda5"/>
<rect x="1488.32" y="287.77" width="18.81" height="18.81" fill="#66c2a5"/>
<rect x="1506.83" y="287.77" width="18.81" height="18.81" fill="#fee695"/>
<rect x="1525.34" y="287.77" width="18.81" height="18.81" fill="#fca85e"/>
<rect x="1543.85" y="287.77" width="18.81" height="18.81" fill="#fee695"/>
<rect x="1562.36" y="287.77" width="18.81" height="18.81" fill="#fffcba"/>
<rect x="1580.87" y="287.77" width="18.81" height="18.81" fill="#fffcba"/>
<rect x="1599.38" y="287.77" width="18.81" height="18.81" fill="#8fd2a4"/>
<rect x="1617.89" y="287.77" width="18.81" height="18.81" fill="#88d0a4"/>
<rect x="1636.40" y="287.77" width="18.81" height="18.81" fill="#a4daa4"/>
<rect x="1654.91" y="287.77" width="18.81" height="18.81" fill="#ffffbf"/>
<rect x="1081.10" y="306.28" width="18.81" height="18.81" fill="#3288bd"/>
<rect x="1099.61" y="306.28" width="18.81" height="18.81" fill="#4299b6"/>
<rect x="1118.12" y="306.28" width="18.81" height="18.81" fill="#479fb3"/>
<rect x="1136.63" y="306.28" width="18.81" height="18.81" fill="#5cb6aa"/>
<rect x="1155.14" y="306.28" width="18.81" height="18.81" fill="#7bcaa5"/>
<rect x="1173.65" y="306.28" width="18.81" height="18.81" fill="#61bca7"/>
<rect x="1192.16" y="306.28" width="18.81" height="18.81" fill="#fee08b"/>
<rect x="1210.67" y="306.28" width="18.81" height="18.81" fill="#fff9b5"/>
<rect x="1229.18" y="306.28" width="18.81" height="18.81" fill="#9e0142"/>
<rect x="1247.69" y="306.28" width="18.81" height="18.81" fill="#f0f9a8"/>
<rect x="1266.20" y="306.28" width="18.81" height="18.81" fill="#f2faac"/>
<rect x="1284.71" y="306.28" width="18.81" height="18.81" fill="#d4ee9c"/>
<rect x="1303.22" y="306.28" width="18.81" height="18.81" fill="#e0f399"/>
<rect x="1321.73" y="306.28" width="18.81" height="18.81" fill="#abdda4"/>
<rect x="1340.24" y="306.28" width="18.81" height="18.81" fill="#b1dfa3"/>
<rect x="1358.75" y="306.28" width="18.81" height="18.81" fill="#b1dfa3"/>
<rect x="1377.26" y="306.28" width="18.81" height="18.81" fill="#daf09a"/>
<rect x="1395.77" y="306.28" width="18.81" height="18.81" fill="#b7e2a2"/>
<rect x="1414.28" y="306.28" width="18.81" height="18.81" fill="#88d0a4"/>
<rect x="1432.79" y="306.28" width="18.81" height="18.81" fill="#9dd8a4"/>
<rect x="1451.30" y="306.28" width="18.81" height="18.81" fill="#8fd2a4"/>
<rect x="1469.81" y="306.28" width="18.81" height="18.81" fill="#96d5a4"/>
<rect x="1488.32" y="306.28" width="18.81" height="18.81" fill="#88d0a4"/>
<rect x="1506.83" y="306.28" width="18.81" height="18.81" fill="#f7fcb3"/>
<rect x="1525.34" y="306.28" width="18.81" height="18.81" fill="#f5fbaf"/>
<rect x="1543.85" y="306.28" width="18.81" height="18.81" fill="#daf09a"/>
<rect x="1562.36" y="306.28" width="18.81" height="18.81" fill="#b7e2a2"/>
<rect x="1580.87" y="306.28" width="18.81" height="18.81" fill="#abdda4"/>
<rect x="1599.38" y="306.28" width="18.81" height="18.81" fill="#74c7a5"/>
<rect x="1617.89" y="306.28" width="18.81" height="18.81" fill="#82cda5"/>
<rect x="1636.40" y="306.28" width="18.81" height="18.81" fill="#a4daa4"/>
<rect x="1654.91" y="306.28" width="18.81" height="18.81" fill="#f0f9a8"/>
<rect x="1081.10" y="324.79" width="18.81" height="18.81" fill="#3c94b8"/>
<rect x="1099.61" y="324.79" width="18.81" height="18.81" fill="#4ca5b1"/>
<rect x="1118.12" y="324.79" width="18.81" height="18.81" fill="#3c94b8"/>
<rect x="1136.63" y="324.79" width="18.81" height="18.81" fill="#82cda5"/>
<rect x="1155.14" y="324.79" width="18.81" height="18.81" fill="#88d0a4"/>
<rect x="1173.65" y="324.79" width="18.81" height="18.81" fill="#5cb6aa"/>
<rect x="1192.16" y="324.79" width="18.81" height="18.81" fill="#fee695"/>
<rect x="1210.67" y="324.79" width="18.81" height="18.81" fill="#fed17e"/>
<rect x="1229.18" y="324.79" width="18.81" height="18.81" fill="#f0f9a8"/>
<rect x="1247.69" y="324.79" width="18.81" height="18.81" fill="#9e0142"/>
<rect x="1266.20" y="324.79" width="18.81" height="18.81" fill="#fffcba"/>
<rect x="1284.71" y="324.79" width="18.81" height="18.81" fill="#abdda4"/>
<rect x="1303.22" y="324.79" width="18.81" height="18.81" fill="#9dd8a4"/>
<rect x="1321.73" y="324.79" width="18.81" height="18.81" fill="#8fd2a4"/>
<rect x="1340.24" y="324.79" width="18.81" height="18.81" fill="#74c7a5"/>
<rect x="1358.75" y="324.79" width="18.81" height="18.81" fill="#abdda4"/>
<rect x="1377.26" y="324.79" width="18.81" height="18.81" fill="#9dd8a4"/>
<rect x="1395.77" y="324.79" width="18.81" height="18.81" fill="#82cda5"/>
<rect x="1414.28" y="324.79" width="18.81" height="18.81" fill="#66c2a5"/>
<rect x="1432.79" y="324.79" width="18.81" height="18.81" fill="#66c2a5"/>
<rect x="1451.30" y="324.79" width="18.81" height="18.81" fill="#56b1ac"/>
<rect x="1469.81" y="324.79" width="18.81" height="18.81" fill="#6dc5a5"/>
<rect x="1488.32" y="324.79" width="18.81" height="18.81" fill="#66c2a5"/>
<rect x="1506.83" y="324.79" width="18.81" height="18.81" fill="#daf09a"/>
<rect x="1525.34" y="324.79" width="18.81" height="18.81" fill="#ffffbf"/>
<rect x="1543.85" y="324.79" width="18.81" height="18.81" fill="#eef8a4"/>
<rect x="1562.36" y="324.79" width="18.81" height="18.81" fill="#ceeb9d"/>
<rect x="1580.87" y="324.79" width="18.81" height="18.81" fill="#ceeb9d"/>
<rect x="1599.38" y="324.79" width="18.81" height="18.81" fill="#74c7a5"/>
<rect x="1617.89" y="324.79" width="18.81" height="18.81" fill="#66c2a5"/>
<rect x="1636.40" y="324.79" width="18.81" height="18.81" fill="#74c7a5"/>
<rect x="1654.91" y="324.79" width="18.81" height="18.81" fill="#c8e99e"/>
<rect x="1081.10" y="343.30" width="18.81" height="18.81" fill="#479fb3"/>
<rect x="1099.61" y="343.30" width="18.81" height="18.81" fill="#479fb3"/>
<rect x="1118.12" y="343.30" width="18.81" height="18.81" fill="#4299b6"/>
<rect x="1136.63" y="343.30" width="18.81" height="18.81" fill="#61bca7"/>
<rect x="1155.14" y="343.30" width="18.81" height="18.81" fill="#74c7a5"/>
<rect x="1173.65" y="343.30" width="18.81" height="18.81" fill="#56b1ac"/>
<rect x="1192.16" y="343.30" width="18.81" height="18.81" fill="#fee08b"/>
<rect x="1210.67" y="343.30" width="18.81" height="18.81" fill="#feeca0"/>
<rect x="1229.18" y="343.30" width="18.81" height="18.81" fill="#f2faac"/>
<rect x="1247.69" y="343.30" width="18.81" height="18.81" fill="#fffcba"/>
<rect x="1266.20" y="343.30" width="18.81" height="18.81" fill="#9e0142"/>
<rect x="1284.71" y="343.30" width="18.81" height="18.81" fill="#88d0a4"/>
<rect x="1303.22" y="343.30" width="18.81" height="18.81" fill="#82cda5"/>
<rect x="1321.73" y="343.30" width="18.81" height="18.81" fill="#6dc5a5"/>
<rect x="1340.24" y="343.30" width="18.81" height="18.81" fill="#61bca7"/>
<rect x="1358.75" y="343.30" width="18.81" height="18.81" fill="#a4daa4"/>
<rect x="1377.26" y="343.30" width="18.81" height="18.81" fill="#82cda5"/>
<rect x="1395.77" y="343.30" width="18.81" height="18.81" fill="#6dc5a5"/>
<rect x="1414.28" y="343.30" width="18.81" height="18.81" fill="#5cb6aa"/>
<rect x="1432.79" y="343.30" width="18.81" height="18.81" fill="#61bca7"/>
<rect x="1451.30" y="343.30" width="18.81" height="18.81" fill="#4ca5b1"/>
<rect x="1469.81" y="343.30" width="18.81" height="18.81" fill="#5cb6aa"/>
<rect x="1488.32" y="343.30" width="18.81" height="18.81" fill="#56b1ac"/>
<rect x="1506.83" y="343.30" width="18.81" height="18.81" fill="#bde4a0"/>
<rect x="1525.34" y="343.30" width="18.81" height="18.81" fill="#fcfebb"/>
<rect x="1543.85" y="343.30" width="18.81" height="18.81" fill="#e6f598"/>
<rect x="1562.36" y="343.30" width="18.81" height="18.81" fill="#a4daa4"/>
<rect x="1580.87" y="343.30" width="18.81" height="18.81" fill="#b7e2a2"/>
<rect x="1599.38" y="343.30" width="18.81" height="18.81" fill="#5cb6aa"/>
<rect x="1617.89" y="343.30" width="18.81" height="18.81" fill="#479fb3"/>
<rect x="1636.40" y="343.30" width="18.81" height="18.81" fill="#5cb6aa"/>
<rect x="1654.91" y="343.30" width="18.81" height="18.81" fill="#b7e2a2"/>
<rect x="1081.10" y="361.81" width="18.81" height="18.81" fill="#5cb6aa"/>
<rect x="1099.61" y="361.81" width="18.81" height="18.81" fill="#a4daa4"/>
<rect x="1118.12" y="361.81" width="18.81" height="18.81" fill="#9dd8a4"/>
<rect x="1136.63" y="361.81" width="18.81" height="18.81" fill="#daf09a"/>
<rect x="1155.14" y="361.81" width="18.81" height="18.81" fill="#fcfebb"/>
<rect x="1173.65" y="361.81" width="18.81" height="18.81" fill="#bde4a0"/>
<rect x="1192.16" y="361.81" width="18.81" height="18.81" fill="#e6f598"/>
<rect x="1210.67" y="361.81" width="18.81" height="18.81" fill="#eef8a4"/>
<rect x="1229.18" y="361.81" width="18.81" height="18.81" fill="#d4ee9c"/>
<rect x="1247.69" y="361.81" width="18.81" height="18.81" fill="#abdda4"/>
<rect x="1266.20" y="361.81" width="18.81" height="18.81" fill="#88d0a4"/>
<rect x="1284.71" y="361.81" width="18.81" height="18.81" fill="#9e0142"/>
<rect x="1303.22" y="361.81" width="18.81" height="18.81" fill="#f67a49"/>
<rect x="1321.73" y="361.81" width="18.81" height="18.81" fill="#fdbd6e"/>
<rect x="1340.24" y="361.81" width="18.81" height="18.81" fill="#fdbd6e"/>
<rect x="1358.75" y="361.81" width="18.81" height="18.81" fill="#fee695"/>
<rect x="1377.26" y="361.81" width="18.81" height="18.81" fill="#fdbd6e"/>
<rect x="1395.77" y="361.81" width="18.81" height="18.81" fill="#feeca0"/>
<rect x="1414.28" y="361.81" width="18.81" height="18.81" fill="#fffcba"/>
<rect x="1432.79" y="361.81" width="18.81" height="18.81" fill="#fee99b"/>
<rect x="1451.30" y="361.81" width="18.81" height="18.81" fill="#ffffbf"/>
<rect x="1469.81" y="361.81" width="18.81" height="18.81" fill="#fffcba"/>
<rect x="1488.32" y="361.81" width="18.81" height="18.81" fill="#fff9b5"/>
<rect x="1506.83" y="361.81" width="18.81" height="18.81" fill="#fedb87"/>
<rect x="1525.34" y="361.81" width="18.81" height="18.81" fill="#feeca0"/>
<rect x="1543.85" y="361.81" width="18.81" height="18.81" fill="#feeca0"/>
<rect x="1562.36" y="361.81" width="18.81" height="18.81" fill="#fee08b"/>
<rect x="1580.87" y="361.81" width="18.81" height="18.81" fill="#feeca0"/>
<rect x="1599.38" y="361.81" width="18.81" height="18.81" fill="#eef8a4"/>
<rect x="1617.89" y="361.81" width="18.81" height="18.81" fill="#fffcba"/>
<rect x="1636.40" y="361.81" width="18.81" height="18.81" fill="#f7fcb3"/>
<rect x="1654.91" y="361.81" width="18.81" height="18.81" fill="#f5fbaf"/>
<rect x="1081.10" y="380.32" width="18.81" height="18.81" fill="#56b1ac"/>
<rect x="1099.61" y="380.32" width="18.81" height="18.81" fill="#abdda4"/>
<rect x="1118.12" y="380.32" width="18.81" height="18.81" fill="#9dd8a4"/>
<rect x="1136.63" y="380.32" width="18.81" height="18.81" fill="#c8e99e"/>
<rect x="1155.14" y="380.32" width="18.81" height="18.81" fill="#ffffbf"/>
<rect x="1173.65" y="380.32" width="18.81" height="18.81" fill="#b7e2a2"/>
<rect x="1192.16" y="380.32" width="18.81" height="18.81" fill="#daf09a"/>
<rect x="1210.67" y="380.32" width="18.81" height="18.81" fill="#f0f9a8"/>
<rect x="1229.18" y="380.32" width="18.81" height="18.81" fill="#e0f399"/>
<rect x="1247.69" y="380.32" width="18.81" height="18.81" fill="#9dd8a4"/>
<rect x="1266.20" y="380.32" width="18.81" height="18.81" fill="#82cda5"/>
<rect x="1284.71" y="380.32" width="18.81" height="18.81" fill="#f67a49"/>
<rect x="1303.22" y="380.32" width="18.81" height="18.81" fill="#9e0142"/>
<rect x="1321.73" y="380.32" width="18.81" height="18.81" fill="#fdbd6e"/>
<rect x="1340.24" y="380.32" width="18.81" height="18.81" fill="#fba15b"/>
<rect x="1358.75" y="380.32" width="18.81" height="18.81" fill="#fee99b"/>
<rect x="1377.26" y="380.32" width="18.81" height="18.81" fill="#fdbd6e"/>
<rect x="1395.77" y="380.32" width="18.81" height="18.81" fill="#fee99b"/>
<rect x="1414.28" y="380.32" width="18.81" height="18.81" fill="#fafdb7"/>
<rect x="1432.79" y="380.32" width="18.81" height="18.81" fill="#fee99b"/>
<rect x="1451.30" y="380.32" width="18.81" height="18.81" fill="#feeca0"/>
<rect x="1469.81" y="380.32" width="18.81" height="18.81" fill="#fffcba"/>
<rect x="1488.32" y="380.32" width="18.81" height="18.81" fill="#fff9b5"/>
<rect x="1506.83" y="380.32" width="18.81" height="18.81" fill="#fdb869"/>
<rect x="1525.34" y="380.32" width="18.81" height="18.81" fill="#fff6af"/>
<rect x="1543.85" y="380.32" width="18.81" height="18.81" fill="#feeca0"/>
<rect x="1562.36" y="380.32" width="18.81" height="18.81" fill="#feeca0"/>
<rect x="1580.87" y="380.32" width="18.81" height="18.81" fill="#fef0a5"/>
<rect x="1599.38" y="380.32" width="18.81" height="18.81" fill="#f2faac"/>
<rect x="1617.89" y="380.32" width="18.81" height="18.81" fill="#fee390"/>
<rect x="1636.40" y="380.32" width="18.81" height="18.81" fill="#ffffbf"/>
<rect x="1654.91" y="380.32" width="18.81" height="18.81" fill="#ffffbf"/>
<rect x="1081.10" y="398.83" width="18.81" height="18.81" fill="#66c2a5"/>
<rect x="1099.61" y="398.83" width="18.81" height="18.81" fill="#9dd8a4"/>
<rect x="1118.12" y="398.83" width="18.81" height="18.81" fill="#b1dfa3"/>
<rect x="1136.63" y="398.83" width="18.81" height="18.81" fill="#ceeb9d"/>
<rect x="1155.14" y="398.83" width="18.81" height="18.81" fill="#ffffbf"/>
<rect x="1173.65" y="398.83" width="18.81" height="18.81" fill="#c8e99e"/>
<rect x="1192.16" y="398.83" width="18.81" height="18.81" fill="#a4daa4"/>
<rect x="1210.67" y="398.83" width="18.81" height="18.81" fill="#c3e79f"/>
<rect x="1229.18" y="398.83" width="18.81" height="18.81" fill="#abdda4"/>
<rect x="1247.69" y="398.83" width="18.81" height="18.81" fill="#8fd2a4"/>
<rect x="1266.20" y="398.83" width="18.81" height="18.81" fill="#6dc5a5"/>
<rect x="1284.71" y="398.83" width="18.81" height="18.81" fill="#fdbd6e"/>
<rect x="1303.22" y="398.83" width="18.81" height="18.81" fill="#fdbd6e"/>
<rect x="1321.73" y="398.83" width="18.81" height="18.81" fill="#9e0142"/>
<rect x="1340.24" y="398.83" width="18.81" height="18.81" fill="#fdb365"/>
<rect x="1358.75" y="398.83" width="18.81" height="18.81" fill="#fee695"/>
<rect x="1377.26" y="398.83" width="18.81" height="18.81" fill="#fecc7a"/>
<rect x="1395.77" y="398.83" width="18.81" height="18.81" fill="#fff9b5"/>
<rect x="1414.28" y="398.83" width="18.81" height="18.81" fill="#fffcba"/>
<rect x="1432.79" y="398.83" width="18.81" height="18.81" fill="#fdc272"/>
<rect x="1451.30" y="398.83" width="18.81" height="18.81" fill="#fedb87"/>
<rect x="1469.81" y="398.83" width="18.81" height="18.81" fill="#fee390"/>
<rect x="1488.32" y="398.83" width="18.81" height="18.81" fill="#fee390"/>
<rect x="1506.83" y="398.83" width="18.81" height="18.81" fill="#fff6af"/>
<rect x="1525.34" y="398.83" width="18.81" height="18.81" fill="#f2faac"/>
<rect x="1543.85" y="398.83" width="18.81" height="18.81" fill="#fffcba"/>
<rect x="1562.36" y="398.83" width="18.81" height="18.81" fill="#fff6af"/>
<rect x="1580.87" y="398.83" width="18.81" height="18.81" fill="#f5fbaf"/>
<rect x="1599.38" y="398.83" width="18.81" height="18.81" fill="#ceeb9d"/>
<rect x="1617.89" y="398.83" width="18.81" height="18.81" fill="#fff9b5"/>
<rect x="1636.40" y="398.83" width="18.81" height="18.81" fill="#f2faac"/>
<rect x="1654.91" y="398.83" width="18.81" height="18.81" fill="#c8e99e"/>
<rect x="1081.10" y="417.34" width="18.81" height="18.81" fill="#56b1ac"/>
<rect x="1099.61" y="417.34" width="18.81" height="18.81" fill="#bde4a0"/>
<rect x="1118.12" y="417.34" width="18.81" height="18.81" fill="#b7e2a2"/>
<rect x="1136.63" y="417.34" width="18.81" height="18.81" fill="#b1dfa3"/>
<rect x="1155.14" y="417.34" width="18.81" height="18.81" fill="#f7fcb3"/>
<rect x="1173.65" y="417.34" width="18.81" height="18.81" fill="#c8e99e"/>
<rect x="1192.16" y="417.34" width="18.81" height="18.81" fill="#96d5a4"/>
<rect x="1210.67" y="417.34" width="18.81" height="18.81" fill="#c3e79f"/>
<rect x="1229.18" y="417.34" width="18.81" height="18.81" fill="#b1dfa3"/>
<rect x="1247.69" y="417.34" width="18.81" height="18.81" fill="#74c7a5"/>
<rect x="1266.20" y="417.34" width="18.81" height="18.81" fill="#61bca7"/>
<rect x="1284.71" y="417.34" width="18.81" height="18.81" fill="#fdbd6e"/>
<rect x="1303.22" y="417.34" width="18.81" height="18.81" fill="#fba15b"/>
<rect x="1321.73" y="417.34" width="18.81" height="18.81" fill="#fdb365"/>
<rect x="1340.24" y="417.34" width="18.81" height="18.81" fill="#9e0142"/>
<rect x="1358.75" y="417.34" width="18.81" height="18.81" fill="#fef0a5"/>
<rect x="1377.26" y="417.34" width="18.81" height="18.81" fill="#fedb87"/>
<rect x="1395.77" y="417.34" width="18.81" height="18.81" fill="#fffcba"/>
<rect x="1414.28" y="417.34" width="18.81" height="18.81" fill="#f5fbaf"/>
<rect x="1432.79" y="417.34" width="18.81" height="18.81" fill="#fee99b"/>
<rect x="1451.30" y="417.34" width="18.81" height="18.81" fill="#fec776"/>
<rect x="1469.81" y="417.34" width="18.81" height="18.81" fill="#fcfebb"/>
<rect x="1488.32" y="417.34" width="18.81" height="18.81" fill="#fafdb7"/>
<rect x="1506.83" y="417.34" width="18.81" height="18.81" fill="#fdbd6e"/>
<rect x="1525.34" y="417.34" width="18.81" height="18.81" fill="#e8f69c"/>
<rect x="1543.85" y="417.34" width="18.81" height="18.81" fill="#fffcba"/>
<rect x="1562.36" y="417.34" width="18.81" height="18.81" fill="#ffffbf"/>
<rect x="1580.87" y="417.34" width="18.81" height="18.81" fill="#eef8a4"/>
<rect x="1599.38" y="417.34" width="18.81" height="18.81" fill="#e6f598"/>
<rect x="1617.89" y="417.34" width="18.81" height="18.81" fill="#fedb87"/>
<rect x="1636.40" y="417.34" width="18.81" height="18.81" fill="#fffcba"/>
<rect x="1654.91" y="417.34" width="18.81" height="18.81" fill="#f2faac"/>
<rect x="1081.10" y="435.85" width="18.81" height="18.81" fill="#5cb6aa"/>
<rect x="1099.61" y="435.85" width="18.81" height="18.81" fill="#8fd2a4"/>
<rect x="1118.12" y="435.85" width="18.81" height="18.81" fill="#9dd8a4"/>
<rect x="1136.63" y="435.85" width="18.81" height="18.81" fill="#c8e99e"/>
<rect x="1155.14" y="435.85" width="18.81" height="18.81" fill="#f5fbaf"/>
<rect x="1173.65" y="435.85" width="18.81" height="18.81" fill="#bde4a0"/>
<rect x="1192.16" y="435.85" width="18.81" height="18.81" fill="#e0f399"/>
<rect x="1210.67" y="435.85" width="18.81" height="18.81" fill="#f2faac"/>
<rect x="1229.18" y="435.85" width="18.81" height="18.81" fill="#b1dfa3"/>
<rect x="1247.69" y="435.85" width="18.81" height="18.81" fill="#abdda4"/>
<rect x="1266.20" y="435.85" width="18.81" height="18.81" fill="#a4daa4"/>
<rect x="1284.71" y="435.85" width="18.81" height="18.81" fill="#fee695"/>
<rect x="1303.22" y="435.85" width="18.81" height="18.81" fill="#fee99b"/>
<rect x="1321.73" y="435.85" width="18.81" height="18.81" fill="#fee695"/>
<rect x="1340.24" y="435.85" width="18.81" height="18.81" fill="#fef0a5"/>
<rect x="1358.75" y="435.85" width="18.81" height="18.81" fill="#9e0142"/>
<rect x="1377.26" y="435.85" width="18.81" height="18.81" fill="#fedb87"/>
<rect x="1395.77" y="435.85" width="18.81" height="18.81" fill="#fffcba"/>
<rect x="1414.28" y="435.85" width="18.81" height="18.81" fill="#fcfebb"/>
<rect x="1432.79" y="435.85" width="18.81" height="18.81" fill="#feeca0"/>
<rect x="1451.30" y="435.85" width="18.81" height="18.81" fill="#fafdb7"/>
<rect x="1469.81" y="435.85" width="18.81" height="18.81" fill="#f7fcb3"/>
<rect x="1488.32" y="435.85" width="18.81" height="18.81" fill="#f5fbaf"/>
<rect x="1506.83" y="435.85" width="18.81" height="18.81" fill="#feeca0"/>
<rect x="1525.34" y="435.85" width="18.81" height="18.81" fill="#feeca0"/>
<rect x="1543.85" y="435.85" width="18.81" height="18.81" fill="#fee08b"/>
<rect x="1562.36" y="435.85" width="18.81" height="18.81" fill="#fff6af"/>
<rect x="1580.87" y="435.85" width="18.81" height="18.81" fill="#fff3aa"/>
<rect x="1599.38" y="435.85" width="18.81" height="18.81" fill="#c8e99e"/>
<rect x="1617.89" y="435.85" width="18.81" height="18.81" fill="#f2faac"/>
<rect x="1636.40" y="435.85" width="18.81" height="18.81" fill="#daf09a"/>
<rect x="1654.91" y="435.85" width="18.81" height="18.81" fill="#c8e99e"/>
<rect x="1081.10" y="454.36" width="18.81" height="18.81" fill="#56b1ac"/>
<rect x="1099.61" y="454.36" width="18.81" height="18.81" fill="#74c7a5"/>
<rect x="1118.12" y="454.36" width="18.81" height="18.81" fill="#88d0a4"/>
<rect x="1136.63" y="454.36" width="18.81" height="18.81" fill="#b7e2a2"/>
<rect x="1155.14" y="454.36" width="18.81" height="18.81" fill="#f0f9a8"/>
<rect x="1173.65" y="454.36" width="18.81" height="18.81" fill="#96d5a4"/>
<rect x="1192.16" y="454.36" width="18.81" height="18.81" fill="#e0f399"/>
<rect x="1210.67" y="454.36" width="18.81" height="18.81" fill="#eef8a4"/>
<rect x="1229.18" y="454.36" width="18.81" height="18.81" fill="#daf09a"/>
<rect x="1247.69" y="454.36" width="18.81" height="18.81" fill="#9dd8a4"/>
<rect x="1266.20" y="454.36" width="18.81" height="18.81" fill="#82cda5"/>
<rect x="1284.71" y="454.36" width="18.81" height="18.81" fill="#fdbd6e"/>
<rect x="1303.22" y="454.36" width="18.81" height="18.81" fill="#fdbd6e"/>
<rect x="1321.73" y="454.36" width="18.81" height="18.81" fill="#fecc7a"/>
<rect x="1340.24" y="454.36" width="18.81" height="18.81" fill="#fedb87"/>
<rect x="1358.75" y="454.36" width="18.81" height="18.81" fill="#fedb87"/>
<rect x="1377.26" y="454.36" width="18.81" height="18.81" fill="#9e0142"/>
<rect x="1395.77" y="454.36" width="18.81" height="18.81" fill="#fdc272"/>
<rect x="1414.28" y="454.36" width="18.81" height="18.81" fill="#feeca0"/>
<rect x="1432.79" y="454.36" width="18.81" height="18.81" fill="#fed683"/>
<rect x="1451.30" y="454.36" width="18.81" height="18.81" fill="#ffffbf"/>
<rect x="1469.81" y="454.36" width="18.81" height="18.81" fill="#f2faac"/>
<rect x="1488.32" y="454.36" width="18.81" height="18.81" fill="#e8f69c"/>
<rect x="1506.83" y="454.36" width="18.81" height="18.81" fill="#fdc272"/>
<rect x="1525.34" y="454.36" width="18.81" height="18.81" fill="#fee390"/>
<rect x="1543.85" y="454.36" width="18.81" height="18.81" fill="#fee695"/>
<rect x="1562.36" y="454.36" width="18.81" height="18.81" fill="#fee390"/>
<rect x="1580.87" y="454.36" width="18.81" height="18.81" fill="#fff6af"/>
<rect x="1599.38" y="454.36" width="18.81" height="18.81" fill="#ceeb9d"/>
<rect x="1617.89" y="454.36" width="18.81" height="18.81" fill="#f7fcb3"/>
<rect x="1636.40" y="454.36" width="18.81" height="18.81" fill="#fafdb7"/>
<rect x="1654.91" y="454.36" width="18.81" height="18.81" fill="#eef8a4"/>
<rect x="1081.10" y="472.87" width="18.81" height="18.81" fill="#479fb3"/>
<rect x="1099.61" y="472.87" width="18.81" height="18.81" fill="#7bcaa5"/>
<rect x="1118.12" y="472.87" width="18.81" height="18.81" fill="#abdda4"/>
<rect x="1136.63" y="472.87" width="18.81" height="18.81" fill="#abdda4"/>
<rect x="1155.14" y="472.87" width="18.81" height="18.81" fill="#ceeb9d"/>
<rect x="1173.65" y="472.87" width="18.81" height="18.81" fill="#88d0a4"/>
<rect x="1192.16" y="472.87" width="18.81" height="18.81" fill="#bde4a0"/>
<rect x="1210.67" y="472.87" width="18.81" height="18.81" fill="#daf09a"/>
<rect x="1229.18" y="472.87" width="18.81" height="18.81" fill="#b7e2a2"/>
<rect x="1247.69" y="472.87" width="18.81" height="18.81" fill="#82cda5"/>
<rect x="1266.20" y="472.87" width="18.81" height="18.81" fill="#6dc5a5"/>
<rect x="1284.71" y="472.87" width="18.81" height="18.81" fill="#feeca0"/>
<rect x="1303.22" y="472.87" width="18.81" height="18.81" fill="#fee99b"/>
<rect x="1321.73" y="472.87" width="18.81" height="18.81" fill="#fff9b5"/>
<rect x="1340.24" y="472.87" width="18.81" height="18.81" fill="#fffcba"/>
<rect x="1358.75" y="472.87" width="18.81" height="18.81" fill="#fffcba"/>
<rect x="1377.26" y="472.87" width="18.81" height="18.81" fill="#fdc272"/>
<rect x="1395.77" y="472.87" width="18.81" height="18.81" fill="#9e0142"/>
<rect x="1414.28" y="472.87" width="18.81" height="18.81" fill="#fffcba"/>
<rect x="1432.79" y="472.87" width="18.81" height="18.81" fill="#fef0a5"/>
<rect x="1451.30" y="472.87" width="18.81" height="18.81" fill="#f0f9a8"/>
<rect x="1469.81" y="472.87" width="18.81" height="18.81" fill="#d4ee9c"/>
<rect x="1488.32" y="472.87" width="18.81" height="18.81" fill="#c8e99e"/>
<rect x="1506.83" y="472.87" width="18.81" height="18.81" fill="#fee898"/>
<rect x="1525.34" y="472.87" width="18.81" height="18.81" fill="#fcfebb"/>
<rect x="1543.85" y="472.87" width="18.81" height="18.81" fill="#fafdb7"/>
<rect x="1562.36" y="472.87" width="18.81" height="18.81" fill="#fafdb7"/>
<rect x="1580.87" y="472.87" width="18.81" height="18.81" fill="#f5fbaf"/>
<rect x="1599.38" y="472.87" width="18.81" height="18.81" fill="#c3e79f"/>
<rect x="1617.89" y="472.87" width="18.81" height="18.81" fill="#ebf7a0"/>
<rect x="1636.40" y="472.87" width="18.81" height="18.81" fill="#fee99b"/>
<rect x="1654.91" y="472.87" width="18.81" height="18.81" fill="#e8f69c"/>
<rect x="1081.10" y="491.38" width="18.81" height="18.81" fill="#82cda5"/>
<rect x="1099.61" y="491.38" width="18.81" height="18.81" fill="#6dc5a5"/>
<rect x="1118.12" y="491.38" width="18.81" height="18.81" fill="#b1dfa3"/>
<rect x="1136.63" y="491.38" width="18.81" height="18.81" fill="#abdda4"/>
<rect x="1155.14" y="491.38" width="18.81" height="18.81" fill="#f7fcb3"/>
<rect x="1173.65" y="491.38" width="18.81" height="18.81" fill="#c8e99e"/>
<rect x="1192.16" y="491.38" width="18.81" height="18.81" fill="#82cda5"/>
<rect x="1210.67" y="491.38" width="18.81" height="18.81" fill="#96d5a4"/>
<rect x="1229.18" y="491.38" width="18.81" height="18.81" fill="#88d0a4"/>
<rect x="1247.69" y="491.38" width="18.81" height="18.81" fill="#66c2a5"/>
<rect x="1266.20" y="491.38" width="18.81" height="18.81" fill="#5cb6aa"/>
<rect x="1284.71" y="491.38" width="18.81" height="18.81" fill="#fffcba"/>
<rect x="1303.22" y="491.38" width="18.81" height="18.81" fill="#fafdb7"/>
<rect x="1321.73" y="491.38" width="18.81" height="18.81" fill="#fffcba"/>
<rect x="1340.24" y="491.38" width="18.81" height="18.81" fill="#f5fbaf"/>
<rect x="1358.75" y="491.38" width="18.81" height="18.81" fill="#fcfebb"/>
<rect x="1377.26" y="491.38" width="18.81" height="18.81" fill="#feeca0"/>
<rect x="1395.77" y="491.38" width="18.81" height="18.81" fill="#fffcba"/>
<rect x="1414.28" y="491.38" width="18.81" height="18.81" fill="#9e0142"/>
<rect x="1432.79" y="491.38" width="18.81" height="18.81" fill="#fee08b"/>
<rect x="1451.30" y="491.38" width="18.81" height="18.81" fill="#fafdb7"/>
<rect x="1469.81" y="491.38" width="18.81" height="18.81" fill="#f6fcb1"/>
<rect x="1488.32" y="491.38" width="18.81" height="18.81" fill="#f5fbaf"/>
<rect x="1506.83" y="491.38" width="18.81" height="18.81" fill="#d4ee9c"/>
<rect x="1525.34" y="491.38" width="18.81" height="18.81" fill="#e6f598"/>
<rect x="1543.85" y="491.38" width="18.81" height="18.81" fill="#eef8a4"/>
<rect x="1562.36" y="491.38" width="18.81" height="18.81" fill="#f2faac"/>
<rect x="1580.87" y="491.38" width="18.81" height="18.81" fill="#e8f69c"/>
<rect x="1599.38" y="491.38" width="18.81" height="18.81" fill="#8fd2a4"/>
<rect x="1617.89" y="491.38" width="18.81" height="18.81" fill="#d4ee9c"/>
<rect x="1636.40" y="491.38" width="18.81" height="18.81" fill="#96d5a4"/>
<rect x="1654.91" y="491.38" width="18.81" height="18.81" fill="#6dc5a5"/>
<rect x="1081.10" y="509.89" width="18.81" height="18.81" fill="#6dc5a5"/>
<rect x="1099.61" y="509.89" width="18.81" height="18.81" fill="#74c7a5"/>
<rect x="1118.12" y="509.89" width="18.81" height="18.81" fill="#bde4a0"/>
<rect x="1136.63" y="509.89" width="18.81" height="18.81" fill="#b7e2a2"/>
<rect x="1155.14" y="509.89" width="18.81" height="18.81" fill="#f2faac"/>
<rect x="1173.65" y="509.89" width="18.81" height="18.81" fill="#c3e79f"/>
<rect x="1192.16" y="509.89" width="18.81" height="18.81" fill="#82cda5"/>
<rect x="1210.67" y="509.89" width="18.81" height="18.81" fill="#9dd8a4"/>
<rect x="1229.18" y="509.89" width="18.81" height="18.81" fill="#9dd8a4"/>
<rect x="1247.69" y="509.89" width="18.81" height="18.81" fill="#66c2a5"/>
<rect x="1266.20" y="509.89" width="18.81" height="18.81" fill="#61bca7"/>
<rect x="1284.71" y="509.89" width="18.81" height="18.81" fill="#fee99b"/>
<rect x="1303.22" y="509.89" width="18.81" height="18.81" fill="#fee99b"/>
<rect x="1321.73" y="509.89" width="18.81" height="18.81" fill="#fdc272"/>
<rect x="1340.24" y="509.89" width="18.81" height="18.81" fill="#fee99b"/>
<rect x="1358.75" y="509.89" width="18.81" height="18.81" fill="#feeca0"/>
<rect x="1377.26" y="509.89" width="18.81" height="18.81" fill="#fed683"/>
<rect x="1395.77" y="509.89" width="18.81" height="18.81" fill="#fef0a5"/>
<rect x="1414.28" y="509.89" width="18.81" height="18.81" fill="#fee08b"/>
<rect x="1432.79" y="509.89" width="18.81" height="18.81" fill="#9e0142"/>
<rect x="1451.30" y="509.89" width="18.81" height="18.81" fill="#fee99b"/>
<rect x="1469.81" y="509.89" width="18.81" height="18.81" fill="#fff1a8"/>
<rect x="1488.32" y="509.89" width="18.81" height="18.81" fill="#fff1a8"/>
<rect x="1506.83" y="509.89" width="18.81" height="18.81" fill="#f0f9a8"/>
<rect x="1525.34" y="509.89" width="18.81" height="18.81" fill="#ebf7a0"/>
<rect x="1543.85" y="509.89" width="18.81" height="18.81" fill="#fafdb7"/>
<rect x="1562.36" y="509.89" width="18.81" height="18.81" fill="#f5fbaf"/>
<rect x="1580.87" y="509.89" width="18.81" height="18.81" fill="#ebf7a0"/>
<rect x="1599.38" y="509.89" width="18.81" height="18.81" fill="#b7e2a2"/>
<rect x="1617.89" y="509.89" width="18.81" height="18.81" fill="#f0f9a8"/>
<rect x="1636.40" y="509.89" width="18.81" height="18.81" fill="#d4ee9c"/>
<rect x="1654.91" y="509.89" width="18.81" height="18.81" fill="#88d0a4"/>
<rect x="1081.10" y="528.40" width="18.81" height="18.81" fill="#8fd2a4"/>
<rect x="1099.61" y="528.40" width="18.81" height="18.81" fill="#8fd2a4"/>
<rect x="1118.12" y="528.40" width="18.81" height="18.81" fill="#e6f598"/>
<rect x="1136.63" y="528.40" width="18.81" height="18.81" fill="#abdda4"/>
<rect x="1155.14" y="528.40" width="18.81" height="18.81" fill="#f7fcb3"/>
<rect x="1173.65" y="528.40" width="18.81" height="18.81" fill="#e8f69c"/>
<rect x="1192.16" y="528.40" width="18.81" height="18.81" fill="#51abaf"/>
<rect x="1210.67" y="528.40" width="18.81" height="18.81" fill="#5cb6aa"/>
<rect x="1229.18" y="528.40" width="18.81" height="18.81" fill="#8fd2a4"/>
<rect x="1247.69" y="528.40" width="18.81" height="18.81" fill="#56b1ac"/>
<rect x="1266.20" y="528.40" width="18.81" height="18.81" fill="#4ca5b1"/>
<rect x="1284.71" y="528.40" width="18.81" height="18.81" fill="#ffffbf"/>
<rect x="1303.22" y="528.40" width="18.81" height="18.81" fill="#feeca0"/>
<rect x="1321.73" y="528.40" width="18.81" height="18.81" fill="#fedb87"/>
<rect x="1340.24" y="528.40" width="18.81" height="18.81" fill="#fec776"/>
<rect x="1358.75" y="528.40" width="18.81" height="18.81" fill="#fafdb7"/>
<rect x="1377.26" y="528.40" width="18.81" height="18.81" fill="#ffffbf"/>
<rect x="1395.77" y="528.40" width="18.81" height="18.81" fill="#f0f9a8"/>
<rect x="1414.28" y="528.40" width="18.81" height="18.81" fill="#fafdb7"/>
<rect x="1432.79" y="528.40" width="18.81" height="18.81" fill="#fee99b"/>
<rect x="1451.30" y="528.40" width="18.81" height="18.81" fill="#9e0142"/>
<rect x="1469.81" y="528.40" width="18.81" height="18.81" fill="#fef0a5"/>
<rect x="1488.32" y="528.40" width="18.81" height="18.81" fill="#fee593"/>
<rect x="1506.83" y="528.40" width="18.81" height="18.81" fill="#f0f9a8"/>
<rect x="1525.34" y="528.40" width="18.81" height="18.81" fill="#a4daa4"/>
<rect x="1543.85" y="528.40" width="18.81" height="18.81" fill="#ebf7a0"/>
<rect x="1562.36" y="528.40" width="18.81" height="18.81" fill="#d4ee9c"/>
<rect x="1580.87" y="528.40" width="18.81" height="18.81" fill="#abdda4"/>
<rect x="1599.38" y="528.40" width="18.81" height="18.81" fill="#96d5a4"/>
<rect x="1617.89" y="528.40" width="18.81" height="18.81" fill="#ffffbf"/>
<rect x="1636.40" y="528.40" width="18.81" height="18.81" fill="#eef8a4"/>
<rect x="1654.91" y="528.40" width="18.81" height="18.81" fill="#74c7a5"/>
<rect x="1081.10" y="546.91" width="18.81" height="18.81" fill="#88d0a4"/>
<rect x="1099.61" y="546.91" width="18.81" height="18.81" fill="#96d5a4"/>
<rect x="1118.12" y="546.91" width="18.81" height="18.81" fill="#c8e99e"/>
<rect x="1136.63" y="546.91" width="18.81" height="18.81" fill="#c8e99e"/>
<rect x="1155.14" y="546.91" width="18.81" height="18.81" fill="#ffffbf"/>
<rect x="1173.65" y="546.91" width="18.81" height="18.81" fill="#e0f399"/>
<rect x="1192.16" y="546.91" width="18.81" height="18.81" fill="#6dc5a5"/>
<rect x="1210.67" y="546.91" width="18.81" height="18.81" fill="#82cda5"/>
<rect x="1229.18" y="546.91" width="18.81" height="18.81" fill="#96d5a4"/>
<rect x="1247.69" y="546.91" width="18.81" height="18.81" fill="#6dc5a5"/>
<rect x="1266.20" y="546.91" width="18.81" height="18.81" fill="#5cb6aa"/>
<rect x="1284.71" y="546.91" width="18.81" height="18.81" fill="#fffcba"/>
<rect x="1303.22" y="546.91" width="18.81" height="18.81" fill="#fffcba"/>
<rect x="1321.73" y="546.91" width="18.81" height="18.81" fill="#fee390"/>
<rect x="1340.24" y="546.91" width="18.81" height="18.81" fill="#fcfebb"/>
<rect x="1358.75" y="546.91" width="18.81" height="18.81" fill="#f7fcb3"/>
<rect x="1377.26" y="546.91" width="18.81" height="18.81" fill="#f2faac"/>
<rect x="1395.77" y="546.91" width="18.81" height="18.81" fill="#d4ee9c"/>
<rect x="1414.28" y="546.91" width="18.81" height="18.81" fill="#f6fcb1"/>
<rect x="1432.79" y="546.91" width="18.81" height="18.81" fill="#fff1a8"/>
<rect x="1451.30" y="546.91" width="18.81" height="18.81" fill="#fef0a5"/>
<rect x="1469.81" y="546.91" width="18.81" height="18.81" fill="#9e0142"/>
<rect x="1488.32" y="546.91" width="18.81" height="18.81" fill="#fedb87"/>
<rect x="1506.83" y="546.91" width="18.81" height="18.81" fill="#b1dfa3"/>
<rect x="1525.34" y="546.91" width="18.81" height="18.81" fill="#c3e79f"/>
<rect x="1543.85" y="546.91" width="18.81" height="18.81" fill="#e8f69c"/>
<rect x="1562.36" y="546.91" width="18.81" height="18.81" fill="#e8f69c"/>
<rect x="1580.87" y="546.91" width="18.81" height="18.81" fill="#bde4a0"/>
<rect x="1599.38" y="546.91" width="18.81" height="18.81" fill="#a4daa4"/>
<rect x="1617.89" y="546.91" width="18.81" height="18.81" fill="#daf09a"/>
<rect x="1636.40" y="546.91" width="18.81" height="18.81" fill="#abdda4"/>
<rect x="1654.91" y="546.91" width="18.81" height="18.81" fill="#66c2a5"/>
<rect x="1081.10" y="565.42" width="18.81" height="18.81" fill="#b7e2a2"/>
<rect x="1099.61" y="565.42" width="18.81" height="18.81" fill="#7bcaa5"/>
<rect x="1118.12" y="565.42" width="18.81" height="18.81" fill="#e0f399"/>
<rect x="1136.63" y="565.42" width="18.81" height="18.81" fill="#c3e79f"/>
<rect x="1155.14" y="565.42" width="18.81" height="18.81" fill="#feeca0"/>
<rect x="1173.65" y="565.42" width="18.81" height="18.81" fill="#fafdb7"/>
<rect x="1192.16" y="565.42" width="18.81" height="18.81" fill="#5cb6aa"/>
<rect x="1210.67" y="565.42" width="18.81" height="18.81" fill="#66c2a5"/>
<rect x="1229.18" y="565.42" width="18.81" height="18.81" fill="#88d0a4"/>
<rect x="1247.69" y="565.42" width="18.81" height="18.81" fill="#66c2a5"/>
<rect x="1266.20" y="565.42" width="18.81" height="18.81" fill="#56b1ac"/>
<rect x="1284.71" y="565.42" width="18.81" height="18.81" fill="#fff9b5"/>
<rect x="1303.22" y="565.42" width="18.81" height="18.81" fill="#fff9b5"/>
<rect x="1321.73" y="565.42" width="18.81" height="18.81" fill="#fee390"/>
<rect x="1340.24" y="565.42" width="18.81" height="18.81" fill="#fafdb7"/>
<rect x="1358.75" y="565.42" width="18.81" height="18.81" fill="#f5fbaf"/>
<rect x="1377.26" y="565.42" width="18.81" height="18.81" fill="#e8f69c"/>
<rect x="1395.77" y="565.42" width="18.81" height="18.81" fill="#c8e99e"/>
<rect x="1414.28" y="565.42" width="18.81" height="18.81" fill="#f5fbaf"/>
<rect x="1432.79" y="565.42" width="18.81" height="18.81" fill="#fff1a8"/>
<rect x="1451.30" y="565.42" width="18.81" height="18.81" fill="#fee593"/>
<rect x="1469.81" y="565.42" width="18.81" height="18.81" fill="#fedb87"/>
<rect x="1488.32" y="565.42" width="18.81" height="18.81" fill="#9e0142"/>
<rect x="1506.83" y="565.42" width="18.81" height="18.81" fill="#9dd8a4"/>
<rect x="1525.34" y="565.42" width="18.81" height="18.81" fill="#b1dfa3"/>
<rect x="1543.85" y="565.42" width="18.81" height="18.81" fill="#d4ee9c"/>
<rect x="1562.36" y="565.42" width="18.81" height="18.81" fill="#d4ee9c"/>
<rect x="1580.87" y="565.42" width="18.81" height="18.81" fill="#bde4a0"/>
<rect x="1599.38" y="565.42" width="18.81" height="18.81" fill="#82cda5"/>
<rect x="1617.89" y="565.42" width="18.81" height="18.81" fill="#e0f399"/>
<rect x="1636.40" y="565.42" width="18.81" height="18.81" fill="#8fd2a4"/>
<rect x="1654.91" y="565.42" width="18.81" height="18.81" fill="#4299b6"/>
<rect x="1081.10" y="583.93" width="18.81" height="18.81" fill="#3b7db8"/>
<rect x="1099.61" y="583.93" width="18.81" height="18.81" fill="#6dc5a5"/>
<rect x="1118.12" y="583.93" width="18.81" height="18.81" fill="#5cb6aa"/>
<rect x="1136.63" y="583.93" width="18.81" height="18.81" fill="#abdda4"/>
<rect x="1155.14" y="583.93" width="18.81" height="18.81" fill="#abdda4"/>
<rect x="1173.65" y="583.93" width="18.81" height="18.81" fill="#66c2a5"/>
<rect x="1192.16" y="583.93" width="18.81" height="18.81" fill="#fff6af"/>
<rect x="1210.67" y="583.93" width="18.81" height="18.81" fill="#fee695"/>
<rect x="1229.18" y="583.93" width="18.81" height="18.81" fill="#f7fcb3"/>
<rect x="1247.69" y="583.93" width="18.81" height="18.81" fill="#daf09a"/>
<rect x="1266.20" y="583.93" width="18.81" height="18.81" fill="#bde4a0"/>
<rect x="1284.71" y="583.93" width="18.81" height="18.81" fill="#fedb87"/>
<rect x="1303.22" y="583.93" width="18.81" height="18.81" fill="#fdb869"/>
<rect x="1321.73" y="583.93" width="18.81" height="18.81" fill="#fff6af"/>
<rect x="1340.24" y="583.93" width="18.81" height="18.81" fill="#fdbd6e"/>
<rect x="1358.75" y="583.93" width="18.81" height="18.81" fill="#feeca0"/>
<rect x="1377.26" y="583.93" width="18.81" height="18.81" fill="#fdc272"/>
<rect x="1395.77" y="583.93" width="18.81" height="18.81" fill="#fee898"/>
<rect x="1414.28" y="583.93" width="18.81" height="18.81" fill="#d4ee9c"/>
<rect x="1432.79" y="583.93" width="18.81" height="18.81" fill="#f0f9a8"/>
<rect x="1451.30" y="583.93" width="18.81" height="18.81" fill="#f0f9a8"/>
<rect x="1469.81" y="583.93" width="18.81" height="18.81" fill="#b1dfa3"/>
<rect x="1488.32" y="583.93" width="18.81" height="18.81" fill="#9dd8a4"/>
<rect x="1506.83" y="583.93" width="18.81" height="18.81" fill="#9e0142"/>
<rect x="1525.34" y="583.93" width="18.81" height="18.81" fill="#fecc7a"/>
<rect x="1543.85" y="583.93" width="18.81" height="18.81" fill="#fedb87"/>
<rect x="1562.36" y="583.93" width="18.81" height="18.81" fill="#fedb87"/>
<rect x="1580.87" y="583.93" width="18.81" height="18.81" fill="#feeca0"/>
<rect x="1599.38" y="583.93" width="18.81" height="18.81" fill="#daf09a"/>
<rect x="1617.89" y="583.93" width="18.81" height="18.81" fill="#fffcba"/>
<rect x="1636.40" y="583.93" width="18.81" height="18.81" fill="#feeca0"/>
<rect x="1654.91" y="583.93" width="18.81" height="18.81" fill="#fdc272"/>
<rect x="1081.10" y="602.44" width="18.81" height="18.81" fill="#4299b6"/>
<rect x="1099.61" y="602.44" width="18.81" height="18.81" fill="#56b1ac"/>
<rect x="1118.12" y="602.44" width="18.81" height="18.81" fill="#56b1ac"/>
<rect x="1136.63" y="602.44" width="18.81" height="18.81" fill="#abdda4"/>
<rect x="1155.14" y="602.44" width="18.81" height="18.81" fill="#c3e79f"/>
<rect x="1173.65" y="602.44" width="18.81" height="18.81" fill="#74c7a5"/>
<rect x="1192.16" y="602.44" width="18.81" height="18.81" fill="#fdb869"/>
<rect x="1210.67" y="602.44" width="18.81" height="18.81" fill="#fca85e"/>
<rect x="1229.18" y="602.44" width="18.81" height="18.81" fill="#f5fbaf"/>
<rect x="1247.69" y="602.44" width="18.81" height="18.81" fill="#ffffbf"/>
<rect x="1266.20" y="602.44" width="18.81" height="18.81" fill="#fcfebb"/>
<rect x="1284.71" y="602.44" width="18.81" height="18.81" fill="#feeca0"/>
<rect x="1303.22" y="602.44" width="18.81" height="18.81" fill="#fff6af"/>
<rect x="1321.73" y="602.44" width="18.81" height="18.81" fill="#f2faac"/>
<rect x="1340.24" y="602.44" width="18.81" height="18.81" fill="#e8f69c"/>
<rect x="1358.75" y="602.44" width="18.81" height="18.81" fill="#feeca0"/>
<rect x="1377.26" y="602.44" width="18.81" height="18.81" fill="#fee390"/>
<rect x="1395.77" y="602.44" width="18.81" height="18.81" fill="#fcfebb"/>
<rect x="1414.28" y="602.44" width="18.81" height="18.81" fill="#e6f598"/>
<rect x="1432.79" y="602.44" width="18.81" height="18.81" fill="#ebf7a0"/>
<rect x="1451.30" y="602.44" width="18.81" height="18.81" fill="#a4daa4"/>
<rect x="1469.81" y="602.44" width="18.81" height="18.81" fill="#c3e79f"/>
<rect x="1488.32" y="602.44" width="18.81" height="18.81" fill="#b1dfa3"/>
<rect x="1506.83" y="602.44" width="18.81" height="18.81" fill="#fecc7a"/>
<rect x="1525.34" y="602.44" width="18.81" height="18.81" fill="#9e0142"/>
<rect x="1543.85" y="602.44" width="18.81" height="18.81" fill="#fdbd6e"/>
<rect x="1562.36" y="602.44" width="18.81" height="18.81" fill="#fedb87"/>
<rect x="1580.87" y="602.44" width="18.81" height="18.81" fill="#fed683"/>
<rect x="1599.38" y="602.44" width="18.81" height="18.81" fill="#b1dfa3"/>
<rect x="1617.89" y="602.44" width="18.81" height="18.81" fill="#c3e79f"/>
<rect x="1636.40" y="602.44" width="18.81" height="18.81" fill="#daf09a"/>
<rect x="1654.91" y="602.44" width="18.81" height="18.81" fill="#f7fcb3"/>
<rect x="1081.10" y="620.95" width="18.81" height="18.81" fill="#56b1ac"/>
<rect x="1099.61" y="620.95" width="18.81" height="18.81" fill="#6dc5a5"/>
<rect x="1118.12" y="620.95" width="18.81" height="18.81" fill="#74c7a5"/>
<rect x="1136.63" y="620.95" width="18.81" height="18.81" fill="#c8e99e"/>
<rect x="1155.14" y="620.95" width="18.81" height="18.81" fill="#e8f69c"/>
<rect x="1173.65" y="620.95" width="18.81" height="18.81" fill="#9dd8a4"/>
<rect x="1192.16" y="620.95" width="18.81" height="18.81" fill="#fff6af"/>
<rect x="1210.67" y="620.95" width="18.81" height="18.81" fill="#fee695"/>
<rect x="1229.18" y="620.95" width="18.81" height="18.81" fill="#daf09a"/>
<rect x="1247.69" y="620.95" width="18.81" height="18.81" fill="#eef8a4"/>
<rect x="1266.20" y="620.95" width="18.81" height="18.81" fill="#e6f598"/>
<rect x="1284.71" y="620.95" width="18.81" height="18.81" fill="#feeca0"/>
<rect x="1303.22" y="620.95" width="18.81" height="18.81" fill="#feeca0"/>
<rect x="1321.73" y="620.95" width="18.81" height="18.81" fill="#fffcba"/>
<rect x="1340.24" y="620.95" width="18.81" height="18.81" fill="#fffcba"/>
<rect x="1358.75" y="620.95" width="18.81" height="18.81" fill="#fee08b"/>
<rect x="1377.26" y="620.95" width="18.81" height="18.81" fill="#fee695"/>
<rect x="1395.77" y="620.95" width="18.81" height="18.81" fill="#fafdb7"/>
<rect x="1414.28" y="620.95" width="18.81" height="18.81" fill="#eef8a4"/>
<rect x="1432.79" y="620.95" width="18.81" height="18.81" fill="#fafdb7"/>
<rect x="1451.30" y="620.95" width="18.81" height="18.81" fill="#ebf7a0"/>
<rect x="1469.81" y="620.95" width="18.81" height="18.81" fill="#e8f69c"/>
<rect x="1488.32" y="620.95" width="18.81" height="18.81" fill="#d4ee9c"/>
<rect x="1506.83" y="620.95" width="18.81" height="18.81" fill="#fedb87"/>
<rect x="1525.34" y="620.95" width="18.81" height="18.81" fill="#fdbd6e"/>
<rect x="1543.85" y="620.95" width="18.81" height="18.81" fill="#9e0142"/>
<rect x="1562.36" y="620.95" width="18.81" height="18.81" fill="#fedb87"/>
<rect x="1580.87" y="620.95" width="18.81" height="18.81" fill="#fef0a5"/>
<rect x="1599.38" y="620.95" width="18.81" height="18.81" fill="#b1dfa3"/>
<rect x="1617.89" y="620.95" width="18.81" height="18.81" fill="#e6f598"/>
<rect x="1636.40" y="620.95" width="18.81" height="18.81" fill="#e6f598"/>
<rect x="1654.91" y="620.95" width="18.81" height="18.81" fill="#f0f9a8"/>
<rect x="1081.10" y="639.46" width="18.81" height="18.81" fill="#5cb6aa"/>
<rect x="1099.61" y="639.46" width="18.81" height="18.81" fill="#82cda5"/>
<rect x="1118.12" y="639.46" width="18.81" height="18.81" fill="#66c2a5"/>
<rect x="1136.63" y="639.46" width="18.81" height="18.81" fill="#b7e2a2"/>
<rect x="1155.14" y="639.46" width="18.81" height="18.81" fill="#eef8a4"/>
<rect x="1173.65" y="639.46" width="18.81" height="18.81" fill="#8fd2a4"/>
<rect x="1192.16" y="639.46" width="18.81" height="18.81" fill="#f7fcb3"/>
<rect x="1210.67" y="639.46" width="18.81" height="18.81" fill="#fffcba"/>
<rect x="1229.18" y="639.46" width="18.81" height="18.81" fill="#b7e2a2"/>
<rect x="1247.69" y="639.46" width="18.81" height="18.81" fill="#ceeb9d"/>
<rect x="1266.20" y="639.46" width="18.81" height="18.81" fill="#a4daa4"/>
<rect x="1284.71" y="639.46" width="18.81" height="18.81" fill="#fee08b"/>
<rect x="1303.22" y="639.46" width="18.81" height="18.81" fill="#feeca0"/>
<rect x="1321.73" y="639.46" width="18.81" height="18.81" fill="#fff6af"/>
<rect x="1340.24" y="639.46" width="18.81" height="18.81" fill="#ffffbf"/>
<rect x="1358.75" y="639.46" width="18.81" height="18.81" fill="#fff6af"/>
<rect x="1377.26" y="639.46" width="18.81" height="18.81" fill="#fee390"/>
<rect x="1395.77" y="639.46" width="18.81" height="18.81" fill="#fafdb7"/>
<rect x="1414.28" y="639.46" width="18.81" height="18.81" fill="#f2faac"/>
<rect x="1432.79" y="639.46" width="18.81" height="18.81" fill="#f5fbaf"/>
<rect x="1451.30" y="639.46" width="18.81" height="18.81" fill="#d4ee9c"/>
<rect x="1469.81" y="639.46" width="18.81" height="18.81" fill="#e8f69c"/>
<rect x="1488.32" y="639.46" width="18.81" height="18.81" fill="#d4ee9c"/>
<rect x="1506.83" y="639.46" width="18.81" height="18.81" fill="#fedb87"/>
<rect x="1525.34" y="639.46" width="18.81" height="18.81" fill="#fedb87"/>
<rect x="1543.85" y="639.46" width="18.81" height="18.81" fill="#fedb87"/>
<rect x="1562.36" y="639.46" width="18.81" height="18.81" fill="#9e0142"/>
<rect x="1580.87" y="639.46" width="18.81" height="18.81" fill="#fef0a5"/>
<rect x="1599.38" y="639.46" width="18.81" height="18.81" fill="#c8e99e"/>
<rect x="1617.89" y="639.46" width="18.81" height="18.81" fill="#e8f69c"/>
<rect x="1636.40" y="639.46" width="18.81" height="18.81" fill="#e6f598"/>
<rect x="1654.91" y="639.46" width="18.81" height="18.81" fill="#f0f9a8"/>
<rect x="1081.10" y="657.97" width="18.81" height="18.81" fill="#4299b6"/>
<rect x="1099.61" y="657.97" width="18.81" height="18.81" fill="#66c2a5"/>
<rect x="1118.12" y="657.97" width="18.81" height="18.81" fill="#5cb6aa"/>
<rect x="1136.63" y="657.97" width="18.81" height="18.81" fill="#b1dfa3"/>
<rect x="1155.14" y="657.97" width="18.81" height="18.81" fill="#daf09a"/>
<rect x="1173.65" y="657.97" width="18.81" height="18.81" fill="#6dc5a5"/>
<rect x="1192.16" y="657.97" width="18.81" height="18.81" fill="#fcfebb"/>
<rect x="1210.67" y="657.97" width="18.81" height="18.81" fill="#fffcba"/>
<rect x="1229.18" y="657.97" width="18.81" height="18.81" fill="#abdda4"/>
<rect x="1247.69" y="657.97" width="18.81" height="18.81" fill="#ceeb9d"/>
<rect x="1266.20" y="657.97" width="18.81" height="18.81" fill="#b7e2a2"/>
<rect x="1284.71" y="657.97" width="18.81" height="18.81" fill="#feeca0"/>
<rect x="1303.22" y="657.97" width="18.81" height="18.81" fill="#fef0a5"/>
<rect x="1321.73" y="657.97" width="18.81" height="18.81" fill="#f5fbaf"/>
<rect x="1340.24" y="657.97" width="18.81" height="18.81" fill="#eef8a4"/>
<rect x="1358.75" y="657.97" width="18.81" height="18.81" fill="#fff3aa"/>
<rect x="1377.26" y="657.97" width="18.81" height="18.81" fill="#fff6af"/>
<rect x="1395.77" y="657.97" width="18.81" height="18.81" fill="#f5fbaf"/>
<rect x="1414.28" y="657.97" width="18.81" height="18.81" fill="#e8f69c"/>
<rect x="1432.79" y="657.97" width="18.81" height="18.81" fill="#ebf7a0"/>
<rect x="1451.30" y="657.97" width="18.81" height="18.81" fill="#abdda4"/>
<rect x="1469.81" y="657.97" width="18.81" height="18.81" fill="#bde4a0"/>
<rect x="1488.32" y="657.97" width="18.81" height="18.81" fill="#bde4a0"/>
<rect x="1506.83" y="657.97" width="18.81" height="18.81" fill="#feeca0"/>
<rect x="1525.34" y="657.97" width="18.81" height="18.81" fill="#fed683"/>
<rect x="1543.85" y="657.97" width="18.81" height="18.81" fill="#fef0a5"/>
<rect x="1562.36" y="657.97" width="18.81" height="18.81" fill="#fef0a5"/>
<rect x="1580.87" y="657.97" width="18.81" height="18.81" fill="#9e0142"/>
<rect x="1599.38" y="657.97" width="18.81" height="18.81" fill="#b1dfa3"/>
<rect x="1617.89" y="657.97" width="18.81" height="18.81" fill="#c8e99e"/>
<rect x="1636.40" y="657.97" width="18.81" height="18.81" fill="#c3e79f"/>
<rect x="1654.91" y="657.97" width="18.81" height="18.81" fill="#e8f69c"/>
<rect x="1081.10" y="676.48" width="18.81" height="18.81" fill="#4471b2"/>
<rect x="1099.61" y="676.48" width="18.81" height="18.81" fill="#f0f9a8"/>
<rect x="1118.12" y="676.48" width="18.81" height="18.81" fill="#7bcaa5"/>
<rect x="1136.63" y="676.48" width="18.81" height="18.81" fill="#82cda5"/>
<rect x="1155.14" y="676.48" width="18.81" height="18.81" fill="#8fd2a4"/>
<rect x="1173.65" y="676.48" width="18.81" height="18.81" fill="#56b1ac"/>
<rect x="1192.16" y="676.48" width="18.81" height="18.81" fill="#82cda5"/>
<rect x="1210.67" y="676.48" width="18.81" height="18.81" fill="#8fd2a4"/>
<rect x="1229.18" y="676.48" width="18.81" height="18.81" fill="#74c7a5"/>
<rect x="1247.69" y="676.48" width="18.81" height="18.81" fill="#74c7a5"/>
<rect x="1266.20" y="676.48" width="18.81" height="18.81" fill="#5cb6aa"/>
<rect x="1284.71" y="676.48" width="18.81" height="18.81" fill="#eef8a4"/>
<rect x="1303.22" y="676.48" width="18.81" height="18.81" fill="#f2faac"/>
<rect x="1321.73" y="676.48" width="18.81" height="18.81" fill="#ceeb9d"/>
<rect x="1340.24" y="676.48" width="18.81" height="18.81" fill="#e6f598"/>
<rect x="1358.75" y="676.48" width="18.81" height="18.81" fill="#c8e99e"/>
<rect x="1377.26" y="676.48" width="18.81" height="18.81" fill="#ceeb9d"/>
<rect x="1395.77" y="676.48" width="18.81" height="18.81" fill="#c3e79f"/>
<rect x="1414.28" y="676.48" width="18.81" height="18.81" fill="#8fd2a4"/>
<rect x="1432.79" y="676.48" width="18.81" height="18.81" fill="#b7e2a2"/>
<rect x="1451.30" y="676.48" width="18.81" height="18.81" fill="#96d5a4"/>
<rect x="1469.81" y="676.48" width="18.81" height="18.81" fill="#a4daa4"/>
<rect x="1488.32" y="676.48" width="18.81" height="18.81" fill="#82cda5"/>
<rect x="1506.83" y="676.48" width="18.81" height="18.81" fill="#daf09a"/>
<rect x="1525.34" y="676.48" width="18.81" height="18.81" fill="#b1dfa3"/>
<rect x="1543.85" y="676.48" width="18.81" height="18.81" fill="#b1dfa3"/>
<rect x="1562.36" y="676.48" width="18.81" height="18.81" fill="#c8e99e"/>
<rect x="1580.87" y="676.48" width="18.81" height="18.81" fill="#b1dfa3"/>
<rect x="1599.38" y="676.48" width="18.81" height="18.81" fill="#9e0142"/>
<rect x="1617.89" y="676.48" width="18.81" height="18.81" fill="#fef0a5"/>
<rect x="1636.40" y="676.48" width="18.81" height="18.81" fill="#ceeb9d"/>
<rect x="1654.91" y="676.48" width="18.81" height="18.81" fill="#ceeb9d"/>
<rect x="1081.10" y="694.99" width="18.81" height="18.81" fill="#3682ba"/>
<rect x="1099.61" y="694.99" width="18.81" height="18.81" fill="#fff6af"/>
<rect x="1118.12" y="694.99" width="18.81" height="18.81" fill="#74c7a5"/>
<rect x="1136.63" y="694.99" width="18.81" height="18.81" fill="#9dd8a4"/>
<rect x="1155.14" y="694.99" width="18.81" height="18.81" fill="#c8e99e"/>
<rect x="1173.65" y="694.99" width="18.81" height="18.81" fill="#7bcaa5"/>
<rect x="1192.16" y="694.99" width="18.81" height="18.81" fill="#74c7a5"/>
<rect x="1210.67" y="694.99" width="18.81" height="18.81" fill="#88d0a4"/>
<rect x="1229.18" y="694.99" width="18.81" height="18.81" fill="#82cda5"/>
<rect x="1247.69" y="694.99" width="18.81" height="18.81" fill="#66c2a5"/>
<rect x="1266.20" y="694.99" width="18.81" height="18.81" fill="#479fb3"/>
<rect x="1284.71" y="694.99" width="18.81" height="18.81" fill="#fffcba"/>
<rect x="1303.22" y="694.99" width="18.81" height="18.81" fill="#fee390"/>
<rect x="1321.73" y="694.99" width="18.81" height="18.81" fill="#fff9b5"/>
<rect x="1340.24" y="694.99" width="18.81" height="18.81" fill="#fedb87"/>
<rect x="1358.75" y="694.99" width="18.81" height="18.81" fill="#f2faac"/>
<rect x="1377.26" y="694.99" width="18.81" height="18.81" fill="#f7fcb3"/>
<rect x="1395.77" y="694.99" width="18.81" height="18.81" fill="#ebf7a0"/>
<rect x="1414.28" y="694.99" width="18.81" height="18.81" fill="#d4ee9c"/>
<rect x="1432.79" y="694.99" width="18.81" height="18.81" fill="#f0f9a8"/>
<rect x="1451.30" y="694.99" width="18.81" height="18.81" fill="#ffffbf"/>
<rect x="1469.81" y="694.99" width="18.81" height="18.81" fill="#daf09a"/>
<rect x="1488.32" y="694.99" width="18.81" height="18.81" fill="#e0f399"/>
<rect x="1506.83" y="694.99" width="18.81" height="18.81" fill="#fffcba"/>
<rect x="1525.34" y="694.99" width="18.81" height="18.81" fill="#c3e79f"/>
<rect x="1543.85" y="694.99" width="18.81" height="18.81" fill="#e6f598"/>
<rect x="1562.36" y="694.99" width="18.81" height="18.81" fill="#e8f69c"/>
<rect x="1580.87" y="694.99" width="18.81" height="18.81" fill="#c8e99e"/>
<rect x="1599.38" y="694.99" width="18.81" height="18.81" fill="#fef0a5"/>
<rect x="1617.89" y="694.99" width="18.81" height="18.81" fill="#9e0142"/>
<rect x="1636.40" y="694.99" width="18.81" height="18.81" fill="#f5fbaf"/>
<rect x="1654.91" y="694.99" width="18.81" height="18.81" fill="#ebf7a0"/>
<rect x="1081.10" y="713.50" width="18.81" height="18.81" fill="#3682ba"/>
<rect x="1099.61" y="713.50" width="18.81" height="18.81" fill="#abdda4"/>
<rect x="1118.12" y="713.50" width="18.81" height="18.81" fill="#d4ee9c"/>
<rect x="1136.63" y="713.50" width="18.81" height="18.81" fill="#82cda5"/>
<rect x="1155.14" y="713.50" width="18.81" height="18.81" fill="#8fd2a4"/>
<rect x="1173.65" y="713.50" width="18.81" height="18.81" fill="#5cb6aa"/>
<rect x="1192.16" y="713.50" width="18.81" height="18.81" fill="#a4daa4"/>
<rect x="1210.67" y="713.50" width="18.81" height="18.81" fill="#a4daa4"/>
<rect x="1229.18" y="713.50" width="18.81" height="18.81" fill="#a4daa4"/>
<rect x="1247.69" y="713.50" width="18.81" height="18.81" fill="#74c7a5"/>
<rect x="1266.20" y="713.50" width="18.81" height="18.81" fill="#5cb6aa"/>
<rect x="1284.71" y="713.50" width="18.81" height="18.81" fill="#f7fcb3"/>
<rect x="1303.22" y="713.50" width="18.81" height="18.81" fill="#ffffbf"/>
<rect x="1321.73" y="713.50" width="18.81" height="18.81" fill="#f2faac"/>
<rect x="1340.24" y="713.50" width="18.81" height="18.81" fill="#fffcba"/>
<rect x="1358.75" y="713.50" width="18.81" height="18.81" fill="#daf09a"/>
<rect x="1377.26" y="713.50" width="18.81" height="18.81" fill="#fafdb7"/>
<rect x="1395.77" y="713.50" width="18.81" height="18.81" fill="#fee99b"/>
<rect x="1414.28" y="713.50" width="18.81" height="18.81" fill="#96d5a4"/>
<rect x="1432.79" y="713.50" width="18.81" height="18.81" fill="#d4ee9c"/>
<rect x="1451.30" y="713.50" width="18.81" height="18.81" fill="#eef8a4"/>
<rect x="1469.81" y="713.50" width="18.81" height="18.81" fill="#abdda4"/>
<rect x="1488.32" y="713.50" width="18.81" height="18.81" fill="#8fd2a4"/>
<rect x="1506.83" y="713.50" width="18.81" height="18.81" fill="#feeca0"/>
<rect x="1525.34" y="713.50" width="18.81" height="18.81" fill="#daf09a"/>
<rect x="1543.85" y="713.50" width="18.81" height="18.81" fill="#e6f598"/>
<rect x="1562.36" y="713.50" width="18.81" height="18.81" fill="#e6f598"/>
<rect x="1580.87" y="713.50" width="18.81" height="18.81" fill="#c3e79f"/>
<rect x="1599.38" y="713.50" width="18.81" height="18.81" fill="#ceeb9d"/>
<rect x="1617.89" y="713.50" width="18.81" height="18.81" fill="#f5fbaf"/>
<rect x="1636.40" y="713.50" width="18.81" height="18.81" fill="#9e0142"/>
<rect x="1654.91" y="713.50" width="18.81" height="18.81" fill="#fff3aa"/>
<rect x="1081.10" y="732.01" width="18.81" height="18.81" fill="#5a55a5"/>
<rect x="1099.61" y="732.01" width="18.81" height="18.81" fill="#88d0a4"/>
<rect x="1118.12" y="732.01" width="18.81" height="18.81" fill="#6dc5a5"/>
<rect x="1136.63" y="732.01" width="18.81" height="18.81" fill="#74c7a5"/>
<rect x="1155.14" y="732.01" width="18.81" height="18.81" fill="#61bca7"/>
<rect x="1173.65" y="732.01" width="18.81" height="18.81" fill="#3288bd"/>
<rect x="1192.16" y="732.01" width="18.81" height="18.81" fill="#fffcba"/>
<rect x="1210.67" y="732.01" width="18.81" height="18.81" fill="#ffffbf"/>
<rect x="1229.18" y="732.01" width="18.81" height="18.81" fill="#f0f9a8"/>
<rect x="1247.69" y="732.01" width="18.81" height="18.81" fill="#c8e99e"/>
<rect x="1266.20" y="732.01" width="18.81" height="18.81" fill="#b7e2a2"/>
<rect x="1284.71" y="732.01" width="18.81" height="18.81" fill="#f5fbaf"/>
<rect x="1303.22" y="732.01" width="18.81" height="18.81" fill="#ffffbf"/>
<rect x="1321.73" y="732.01" width="18.81" height="18.81" fill="#c8e99e"/>
<rect x="1340.24" y="732.01" width="18.81" height="18.81" fill="#f2faac"/>
<rect x="1358.75" y="732.01" width="18.81" height="18.81" fill="#c8e99e"/>
<rect x="1377.26" y="732.01" width="18.81" height="18.81" fill="#eef8a4"/>
<rect x="1395.77" y="732.01" width="18.81" height="18.81" fill="#e8f69c"/>
<rect x="1414.28" y="732.01" width="18.81" height="18.81" fill="#6dc5a5"/>
<rect x="1432.79" y="732.01" width="18.81" height="18.81" fill="#88d0a4"/>
<rect x="1451.30" y="732.01" width="18.81" height="18.81" fill="#74c7a5"/>
<rect x="1469.81" y="732.01" width="18.81" height="18.81" fill="#66c2a5"/>
<rect x="1488.32" y="732.01" width="18.81" height="18.81" fill="#4299b6"/>
<rect x="1506.83" y="732.01" width="18.81" height="18.81" fill="#fdc272"/>
<rect x="1525.34" y="732.01" width="18.81" height="18.81" fill="#f7fcb3"/>
<rect x="1543.85" y="732.01" width="18.81" height="18.81" fill="#f0f9a8"/>
<rect x="1562.36" y="732.01" width="18.81" height="18.81" fill="#f0f9a8"/>
<rect x="1580.87" y="732.01" width="18.81" height="18.81" fill="#e8f69c"/>
<rect x="1599.38" y="732.01" width="18.81" height="18.81" fill="#ceeb9d"/>
<rect x="1617.89" y="732.01" width="18.81" height="18.81" fill="#ebf7a0"/>
<rect x="1636.40" y="732.01" width="18.81" height="18.81" fill="#fff3aa"/>
<rect x="1654.91" y="732.01" width="18.81" height="18.81" fill="#9e0142"/>
</g>
<path d="M1109.77,158.20 V107.50 H1128.28 V158.20 M1165.30,158.20 V108.40 H1183.81 V158.20 M1146.79,158.20 V91.10 H1174.55 V108.40 M1119.02,107.50 V74.60 H1160.67 V91.10 M1091.26,158.20 V66.10 H1139.84 V74.60 M1202.32,158.20 V134.40 H1220.83 V158.20 M1257.85,158.20 V115.00 H1276.36 V158.20 M1239.34,158.20 V104.20 H1267.10 V115.00 M1211.57,134.40 V99.20 H1253.22 V104.20 M1294.87,158.20 V136.70 H1313.38 V158.20 M1331.88,158.20 V126.00 H1350.39 V158.20 M1304.12,136.70 V121.80 H1341.14 V126.00 M1387.41,158.20 V121.00 H1405.92 V158.20 M1368.90,158.20 V110.80 H1396.67 V121.00 M1322.63,121.80 V106.20 H1382.79 V110.80 M1424.43,158.20 V118.00 H1442.95 V158.20 M1479.97,158.20 V122.10 H1498.47 V158.20 M1461.45,158.20 V115.30 H1489.22 V122.10 M1433.69,118.00 V106.30 H1475.34 V115.30 M1352.71,106.20 V83.40 H1454.51 V106.30 M1535.50,158.20 V122.80 H1554.01 V158.20 M1572.52,158.20 V116.40 H1591.03 V158.20 M1544.75,122.80 V113.00 H1581.77 V116.40 M1516.99,158.20 V105.80 H1563.26 V113.00 M1609.54,158.20 V107.40 H1628.05 V158.20 M1646.56,158.20 V105.10 H1665.07 V158.20 M1618.79,107.40 V85.50 H1655.81 V105.10 M1540.12,105.80 V67.80 H1637.30 V85.50 M1403.61,83.40 V54.90 H1588.71 V67.80 M1232.39,99.20 V41.80 H1496.16 V54.90 M1115.55,66.10 V18.00 H1364.28 V41.80" fill="none" stroke="#363636" stroke-width="2.9" stroke-linejoin="round" stroke-linecap="butt"/>
<path d="M1081.10,186.86 H1030.40 V205.38 H1081.10 M1081.10,242.40 H1031.30 V260.90 H1081.10 M1081.10,223.89 H1014.00 V251.65 H1031.30 M1030.40,196.12 H997.50 V237.77 H1014.00 M1081.10,168.35 H989.00 V216.94 H997.50 M1081.10,279.41 H1057.30 V297.92 H1081.10 M1081.10,334.94 H1037.90 V353.45 H1081.10 M1081.10,316.43 H1027.10 V344.20 H1037.90 M1057.30,288.67 H1022.10 V330.32 H1027.10 M1081.10,371.96 H1059.60 V390.48 H1081.10 M1081.10,408.99 H1048.90 V427.50 H1081.10 M1059.60,381.22 H1044.70 V418.24 H1048.90 M1081.10,464.51 H1043.90 V483.02 H1081.10 M1081.10,446.00 H1033.70 V473.77 H1043.90 M1044.70,399.73 H1029.10 V459.89 H1033.70 M1081.10,501.53 H1040.90 V520.04 H1081.10 M1081.10,557.06 H1045.00 V575.57 H1081.10 M1081.10,538.55 H1038.20 V566.32 H1045.00 M1040.90,510.79 H1029.20 V552.44 H1038.20 M1029.10,429.81 H1006.30 V531.61 H1029.20 M1081.10,612.60 H1045.70 V631.11 H1081.10 M1081.10,649.62 H1039.30 V668.12 H1081.10 M1045.70,621.85 H1035.90 V658.87 H1039.30 M1081.10,594.08 H1028.70 V640.36 H1035.90 M1081.10,686.64 H1030.30 V705.15 H1081.10 M1081.10,723.66 H1028.00 V742.17 H1081.10 M1030.30,695.89 H1008.40 V732.91 H1028.00 M1028.70,617.22 H990.70 V714.40 H1008.40 M1006.30,480.71 H977.80 V665.81 H990.70 M1022.10,309.49 H964.70 V573.26 H977.80 M989.00,192.65 H940.90 V441.38 H964.70" fill="none" stroke="#363636" stroke-width="2.9" stroke-linejoin="round" stroke-linecap="butt"/>
<defs><linearGradient id="cbar" x1="0" y1="0" x2="0" y2="1"><stop offset="0.000" stop-color="#9e0142"/><stop offset="0.025" stop-color="#ac1045"/><stop offset="0.050" stop-color="#ba2048"/><stop offset="0.075" stop-color="#c72f4c"/><stop offset="0.100" stop-color="#d53e4f"/><stop offset="0.125" stop-color="#dd4a4c"/><stop offset="0.150" stop-color="#e45649"/><stop offset="0.175" stop-color="#ec6146"/><stop offset="0.200" stop-color="#f46d43"/><stop offset="0.225" stop-color="#f67d4a"/><stop offset="0.250" stop-color="#f88e52"/><stop offset="0.275" stop-color="#fb9e5a"/><stop offset="0.300" stop-color="#fdae61"/><stop offset="0.325" stop-color="#fdba6c"/><stop offset="0.350" stop-color="#fec776"/><stop offset="0.375" stop-color="#fed480"/><stop offset="0.400" stop-color="#fee08b"/><stop offset="0.425" stop-color="#fee898"/><stop offset="0.450" stop-color="#fef0a5"/><stop offset="0.475" stop-color="#fff7b2"/><stop offset="0.500" stop-color="#ffffbf"/><stop offset="0.525" stop-color="#f9fcb5"/><stop offset="0.550" stop-color="#f2faac"/><stop offset="0.575" stop-color="#ecf8a2"/><stop offset="0.600" stop-color="#e6f598"/><stop offset="0.625" stop-color="#d7ef9b"/><stop offset="0.650" stop-color="#c8e99e"/><stop offset="0.675" stop-color="#bae3a1"/><stop offset="0.700" stop-color="#abdda4"/><stop offset="0.725" stop-color="#9ad6a4"/><stop offset="0.750" stop-color="#88d0a4"/><stop offset="0.775" stop-color="#77c9a5"/><stop offset="0.800" stop-color="#66c2a5"/><stop offset="0.825" stop-color="#59b4ab"/><stop offset="0.850" stop-color="#4ca5b1"/><stop offset="0.875" stop-color="#3f96b7"/><stop offset="0.900" stop-color="#3288bd"/><stop offset="0.925" stop-color="#3d7ab6"/><stop offset="0.950" stop-color="#486cb0"/><stop offset="0.975" stop-color="#535da9"/><stop offset="1.000" stop-color="#5e4fa2"/></linearGradient></defs>
<rect x="937.0" y="14.2" width="39.3" height="140.8" fill="url(#cbar)"/>
<g stroke="#262626" stroke-width="1.1">
<line x1="976.3" y1="14.8" x2="981.0" y2="14.8"/>
<line x1="976.3" y1="74.6" x2="981.0" y2="74.6"/>
<line x1="976.3" y1="134.7" x2="981.0" y2="134.7"/>
</g>
<path d="M1064.6,1069.8 L1064.6,874.7 L1176.8,874.7 L1176.8,994.2 L1289.4,994.2 L1289.4,1050.9 L1401.7,1050.9 L1401.7,1057.1 L1626.8,1057.1 L1626.8,1069.8 Z" fill="#000"/>
<rect x="1036.8" y="865.0" width="618.7" height="204.8" fill="none" stroke="#000" stroke-width="2.8"/>
<g stroke="#000" stroke-width="2">
<line x1="1023.8" y1="881.2" x2="1036.8" y2="881.2"/>
<line x1="1023.8" y1="943.7" x2="1036.8" y2="943.7"/>
<line x1="1023.8" y1="1006.8" x2="1036.8" y2="1006.8"/>
<line x1="1023.8" y1="1069.8" x2="1036.8" y2="1069.8"/>
<line x1="1121.4" y1="1069.8" x2="1121.4" y2="1082.2"/>
<line x1="1346.2" y1="1069.8" x2="1346.2" y2="1082.2"/>
<line x1="1571.5" y1="1069.8" x2="1571.5" y2="1082.2"/>
</g>
<text x="952.00" y="894.58" font-family='&quot;DejaVu Sans&quot;, &quot;Liberation Sans&quot;, sans-serif' font-size="36.70" fill="#000" color="#000">0.6</text>
<text x="951.75" y="957.08" font-family='&quot;DejaVu Sans&quot;, &quot;Liberation Sans&quot;, sans-serif' font-size="36.70" fill="#000" color="#000">0.4</text>
<text x="953.25" y="1020.17" font-family='&quot;DejaVu Sans&quot;, &quot;Liberation Sans&quot;, sans-serif' font-size="36.70" fill="#000" color="#000">0.2</text>
<text x="952.00" y="1083.17" font-family='&quot;DejaVu Sans&quot;, &quot;Liberation Sans&quot;, sans-serif' font-size="36.70" fill="#000" color="#000">0.0</text>
<text x="1109.65" y="1125.05" font-family='&quot;DejaVu Sans&quot;, &quot;Liberation Sans&quot;, sans-serif' font-size="36.70" fill="#000" color="#000">0</text>
<text x="1334.95" y="1125.05" font-family='&quot;DejaVu Sans&quot;, &quot;Liberation Sans&quot;, sans-serif' font-size="36.70" fill="#000" color="#000">2</text>
<text x="1560.00" y="1124.55" font-family='&quot;DejaVu Sans&quot;, &quot;Liberation Sans&quot;, sans-serif' font-size="36.70" fill="#000" color="#000">4</text>
<text x="1097.45" y="1161.40" font-family='&quot;DejaVu Sans&quot;, &quot;Liberation Sans&quot;, sans-serif' font-size="40.23" fill="#000" color="#000">Single units per channel</text>
<text transform="translate(926.30,1085.60) rotate(-90)" font-family='&quot;DejaVu Sans&quot;, &quot;Liberation Sans&quot;, sans-serif' font-size="40.30" fill="#000" color="#000">Proportion</text>
<path d="M1060.5,1432.8 L1060.5,1234.1 L1173.7,1234.1 L1173.7,1306.4 L1288.9,1306.4 L1288.9,1360.6 L1402.0,1360.6 L1402.0,1342.5 L1516.6,1342.5 L1516.6,1342.5 L1630.6,1342.5 L1630.6,1432.8 Z" fill="#000"/>
<rect x="1032.0" y="1224.8" width="627.6" height="208.2" fill="none" stroke="#000" stroke-width="2.8"/>
<g stroke="#000" stroke-width="2">
<line x1="1018.2" y1="1252.7" x2="1032.0" y2="1252.7"/>
<line x1="1018.2" y1="1432.8" x2="1032.0" y2="1432.8"/>
<line x1="1123.5" y1="1432.8" x2="1123.5" y2="1445.5"/>
<line x1="1371.1" y1="1432.8" x2="1371.1" y2="1445.5"/>
<line x1="1619.1" y1="1432.8" x2="1619.1" y2="1445.5"/>
</g>
<text x="958.80" y="1265.88" font-family='&quot;DejaVu Sans&quot;, &quot;Liberation Sans&quot;, sans-serif' font-size="36.70" fill="#000" color="#000">10</text>
<text x="982.30" y="1445.58" font-family='&quot;DejaVu Sans&quot;, &quot;Liberation Sans&quot;, sans-serif' font-size="36.70" fill="#000" color="#000">0</text>
<text x="1111.75" y="1487.05" font-family='&quot;DejaVu Sans&quot;, &quot;Liberation Sans&quot;, sans-serif' font-size="36.70" fill="#000" color="#000">6</text>
<text x="1359.47" y="1486.55" font-family='&quot;DejaVu Sans&quot;, &quot;Liberation Sans&quot;, sans-serif' font-size="36.70" fill="#000" color="#000">7</text>
<text x="1607.47" y="1487.05" font-family='&quot;DejaVu Sans&quot;, &quot;Liberation Sans&quot;, sans-serif' font-size="36.70" fill="#000" color="#000">8</text>
<text x="1217.65" y="1537.30" font-family='&quot;DejaVu Sans&quot;, &quot;Liberation Sans&quot;, sans-serif' font-size="42.09" fill="#000" color="#000">SNR (dB)</text>
<text transform="translate(941.05,1407.95) rotate(-90)" font-family='&quot;DejaVu Sans&quot;, &quot;Liberation Sans&quot;, sans-serif' font-size="40.14" fill="#000" color="#000">Count</text>
<rect x="142.1" y="1115.1" width="695.8" height="677.6" fill="none" stroke="#000" stroke-width="3.0"/>
<g stroke="#000" stroke-width="2.8">
<line x1="127.6" y1="1762.0" x2="142.3" y2="1762.0"/>
<line x1="127.6" y1="1667.7" x2="142.3" y2="1667.7"/>
<line x1="127.6" y1="1573.5" x2="142.3" y2="1573.5"/>
<line x1="127.6" y1="1479.2" x2="142.3" y2="1479.2"/>
<line x1="127.6" y1="1384.9" x2="142.3" y2="1384.9"/>
<line x1="127.6" y1="1290.7" x2="142.3" y2="1290.7"/>
<line x1="127.6" y1="1196.4" x2="142.3" y2="1196.4"/>
<line x1="268.2" y1="1792.7" x2="268.2" y2="1806.9"/>
<line x1="426.6" y1="1792.7" x2="426.6" y2="1806.9"/>
<line x1="585.0" y1="1792.7" x2="585.0" y2="1806.9"/>
<line x1="743.4" y1="1792.7" x2="743.4" y2="1806.9"/>
</g>
<text x="47.90" y="1777.25" font-family='&quot;DejaVu Sans&quot;, &quot;Liberation Sans&quot;, sans-serif' font-size="42.00" fill="#000" color="#000">0.2</text>
<text x="47.15" y="1682.98" font-family='&quot;DejaVu Sans&quot;, &quot;Liberation Sans&quot;, sans-serif' font-size="42.00" fill="#000" color="#000">0.3</text>
<text x="46.15" y="1588.71" font-family='&quot;DejaVu Sans&quot;, &quot;Liberation Sans&quot;, sans-serif' font-size="42.00" fill="#000" color="#000">0.4</text>
<text x="47.40" y="1494.44" font-family='&quot;DejaVu Sans&quot;, &quot;Liberation Sans&quot;, sans-serif' font-size="42.00" fill="#000" color="#000">0.5</text>
<text x="46.40" y="1400.17" font-family='&quot;DejaVu Sans&quot;, &quot;Liberation Sans&quot;, sans-serif' font-size="42.00" fill="#000" color="#000">0.6</text>
<text x="47.15" y="1305.90" font-family='&quot;DejaVu Sans&quot;, &quot;Liberation Sans&quot;, sans-serif' font-size="42.00" fill="#000" color="#000">0.7</text>
<text x="46.65" y="1211.63" font-family='&quot;DejaVu Sans&quot;, &quot;Liberation Sans&quot;, sans-serif' font-size="42.00" fill="#000" color="#000">0.8</text>
<text x="235.33" y="1853.20" font-family='&quot;DejaVu Sans&quot;, &quot;Liberation Sans&quot;, sans-serif' font-size="42.00" fill="#000" color="#000">0.5</text>
<text x="392.35" y="1853.20" font-family='&quot;DejaVu Sans&quot;, &quot;Liberation Sans&quot;, sans-serif' font-size="42.00" fill="#000" color="#000">1.0</text>
<text x="551.25" y="1852.70" font-family='&quot;DejaVu Sans&quot;, &quot;Liberation Sans&quot;, sans-serif' font-size="42.00" fill="#000" color="#000">1.5</text>
<text x="709.90" y="1853.20" font-family='&quot;DejaVu Sans&quot;, &quot;Liberation Sans&quot;, sans-serif' font-size="42.00" fill="#000" color="#000">2.0</text>
<text x="290.50" y="1895.90" font-family='&quot;DejaVu Sans&quot;, &quot;Liberation Sans&quot;, sans-serif' font-size="41.38" fill="#000" color="#000">Trough-to-peak (ms)</text>
<text transform="translate(31.00,1677.05) rotate(-90)" font-family='&quot;DejaVu Sans&quot;, &quot;Liberation Sans&quot;, sans-serif' font-size="41.18" fill="#000" color="#000">Half-peak width (ms)</text>
<defs><clipPath id="eclip"><rect x="143.7" y="1115.1" width="692.7" height="675.8"/></clipPath></defs>
<g clip-path="url(#eclip)">
<path d="M227.4,1564.8 L246.0,1583.4 M227.4,1583.4 L246.0,1564.8 M670.4,1595.3 L689.0,1613.9 M670.4,1613.9 L689.0,1595.3 M354.0,1358.0 L372.6,1376.6 M354.0,1376.6 L372.6,1358.0 M354.0,1439.7 L372.6,1458.3 M354.0,1458.3 L372.6,1439.7 M354.0,1451.3 L372.6,1469.9 M354.0,1469.9 L372.6,1451.3 M354.0,1613.1 L372.6,1631.7 M354.0,1631.7 L372.6,1613.1 M385.3,1209.7 L403.9,1228.3 M385.3,1228.3 L403.9,1209.7 M385.3,1228.7 L403.9,1247.3 M385.3,1247.3 L403.9,1228.7 M385.3,1418.7 L403.9,1437.3 M385.3,1437.3 L403.9,1418.7 M385.3,1432.7 L403.9,1451.3 M385.3,1451.3 L403.9,1432.7 M385.3,1455.7 L403.9,1474.3 M385.3,1474.3 L403.9,1455.7 M385.3,1468.7 L403.9,1487.3 M385.3,1487.3 L403.9,1468.7 M385.3,1483.2 L403.9,1501.8 M385.3,1501.8 L403.9,1483.2 M385.3,1496.3 L403.9,1514.9 M385.3,1514.9 L403.9,1496.3 M385.3,1510.7 L403.9,1529.3 M385.3,1529.3 L403.9,1510.7 M385.3,1523.7 L403.9,1542.3 M385.3,1542.3 L403.9,1523.7 M385.3,1538.4 L403.9,1557.0 M385.3,1557.0 L403.9,1538.4 M385.3,1550.0 L403.9,1568.6 M385.3,1568.6 L403.9,1550.0 M385.3,1587.7 L403.9,1606.3 M385.3,1606.3 L403.9,1587.7 M385.3,1602.2 L403.9,1620.8 M385.3,1620.8 L403.9,1602.2 M385.3,1616.7 L403.9,1635.3 M385.3,1635.3 L403.9,1616.7 M385.3,1629.7 L403.9,1648.3 M385.3,1648.3 L403.9,1629.7 M417.5,1358.9 L436.1,1377.5 M417.5,1377.5 L436.1,1358.9 M417.5,1486.1 L436.1,1504.7 M417.5,1504.7 L436.1,1486.1 M417.5,1521.2 L436.1,1539.8 M417.5,1539.8 L436.1,1521.2 M417.5,1526.2 L436.1,1544.8 M417.5,1544.8 L436.1,1526.2 M417.5,1590.6 L436.1,1609.2 M417.5,1609.2 L436.1,1590.6 M417.5,1622.5 L436.1,1641.1 M417.5,1641.1 L436.1,1622.5 M417.5,1631.2 L436.1,1649.8 M417.5,1649.8 L436.1,1631.2 M417.5,1639.9 L436.1,1658.5 M417.5,1658.5 L436.1,1639.9 M448.7,1318.1 L467.3,1336.7 M448.7,1336.7 L467.3,1318.1 M448.7,1397.2 L467.3,1415.8 M448.7,1415.8 L467.3,1397.2 M448.7,1409.6 L467.3,1428.2 M448.7,1428.2 L467.3,1409.6" stroke="#1f77b4" stroke-width="5.8" fill="none"/>
<path d="M173.3,1756.0 L173.3,1746.8 M173.3,1756.0 L165.3,1760.6 M173.3,1756.0 L181.3,1760.6 M205.3,1652.3 L205.3,1643.1 M205.3,1652.3 L197.3,1656.9 M205.3,1652.3 L213.3,1656.9 M205.3,1658.0 L205.3,1648.8 M205.3,1658.0 L197.3,1662.6 M205.3,1658.0 L213.3,1662.6 M205.3,1664.6 L205.3,1655.4 M205.3,1664.6 L197.3,1669.2 M205.3,1664.6 L213.3,1669.2 M205.3,1694.4 L205.3,1685.2 M205.3,1694.4 L197.3,1699.0 M205.3,1694.4 L213.3,1699.0 M205.3,1699.0 L205.3,1689.8 M205.3,1699.0 L197.3,1703.6 M205.3,1699.0 L213.3,1703.6 M205.3,1704.0 L205.3,1694.8 M205.3,1704.0 L197.3,1708.6 M205.3,1704.0 L213.3,1708.6 M205.3,1709.0 L205.3,1699.8 M205.3,1709.0 L197.3,1713.6 M205.3,1709.0 L213.3,1713.6 M205.3,1714.0 L205.3,1704.8 M205.3,1714.0 L197.3,1718.6 M205.3,1714.0 L213.3,1718.6 M205.3,1719.0 L205.3,1709.8 M205.3,1719.0 L197.3,1723.6 M205.3,1719.0 L213.3,1723.6 M205.3,1731.0 L205.3,1721.8 M205.3,1731.0 L197.3,1735.6 M205.3,1731.0 L213.3,1735.6 M236.6,1603.7 L236.6,1594.5 M236.6,1603.7 L228.6,1608.3 M236.6,1603.7 L244.6,1608.3 M236.6,1650.4 L236.6,1641.2 M236.6,1650.4 L228.6,1655.0 M236.6,1650.4 L244.6,1655.0 M236.6,1662.0 L236.6,1652.8 M236.6,1662.0 L228.6,1666.6 M236.6,1662.0 L244.6,1666.6 M236.6,1671.0 L236.6,1661.8 M236.6,1671.0 L228.6,1675.6 M236.6,1671.0 L244.6,1675.6 M236.6,1718.2 L236.6,1709.0 M236.6,1718.2 L228.6,1722.8 M236.6,1718.2 L244.6,1722.8 M268.2,1458.3 L268.2,1449.1 M268.2,1458.3 L260.2,1462.9 M268.2,1458.3 L276.2,1462.9 M268.2,1688.7 L268.2,1679.5 M268.2,1688.7 L260.2,1693.3 M268.2,1688.7 L276.2,1693.3 M268.2,1695.3 L268.2,1686.1 M268.2,1695.3 L260.2,1699.9 M268.2,1695.3 L276.2,1699.9 M300.1,1683.0 L300.1,1673.8 M300.1,1683.0 L292.1,1687.6 M300.1,1683.0 L308.1,1687.6 M300.1,1703.3 L300.1,1694.1 M300.1,1703.3 L292.1,1707.9 M300.1,1703.3 L308.1,1707.9 M300.1,1709.0 L300.1,1699.8 M300.1,1709.0 L292.1,1713.6 M300.1,1709.0 L308.1,1713.6 M300.1,1734.6 L300.1,1725.4 M300.1,1734.6 L292.1,1739.2 M300.1,1734.6 L308.1,1739.2 M331.3,1722.5 L331.3,1713.3 M331.3,1722.5 L323.3,1727.1 M331.3,1722.5 L339.3,1727.1 M331.3,1739.0 L331.3,1729.8 M331.3,1739.0 L323.3,1743.6 M331.3,1739.0 L339.3,1743.6 M363.3,1644.9 L363.3,1635.7 M363.3,1644.9 L355.3,1649.5 M363.3,1644.9 L371.3,1649.5 M363.3,1649.0 L363.3,1639.8 M363.3,1649.0 L355.3,1653.6 M363.3,1649.0 L371.3,1653.6 M363.3,1653.6 L363.3,1644.4 M363.3,1653.6 L355.3,1658.2 M363.3,1653.6 L371.3,1658.2 M363.3,1656.5 L363.3,1647.3 M363.3,1656.5 L355.3,1661.1 M363.3,1656.5 L371.3,1661.1 M363.3,1675.2 L363.3,1666.0 M363.3,1675.2 L355.3,1679.8 M363.3,1675.2 L371.3,1679.8 M394.6,1600.0 L394.6,1590.8 M394.6,1600.0 L386.6,1604.6 M394.6,1600.0 L402.6,1604.6 M394.6,1629.0 L394.6,1619.8 M394.6,1629.0 L386.6,1633.6 M394.6,1629.0 L402.6,1633.6 M394.6,1646.5 L394.6,1637.3 M394.6,1646.5 L386.6,1651.1 M394.6,1646.5 L402.6,1651.1 M394.6,1674.7 L394.6,1665.5 M394.6,1674.7 L386.6,1679.3 M394.6,1674.7 L402.6,1679.3 M426.8,1614.4 L426.8,1605.2 M426.8,1614.4 L418.8,1619.0 M426.8,1614.4 L434.8,1619.0 M426.8,1655.4 L426.8,1646.2 M426.8,1655.4 L418.8,1660.0 M426.8,1655.4 L434.8,1660.0 M426.8,1676.3 L426.8,1667.1 M426.8,1676.3 L418.8,1680.9 M426.8,1676.3 L434.8,1680.9 M426.8,1685.2 L426.8,1676.0 M426.8,1685.2 L418.8,1689.8 M426.8,1685.2 L434.8,1689.8 M426.8,1705.0 L426.8,1695.8 M426.8,1705.0 L418.8,1709.6 M426.8,1705.0 L434.8,1709.6 M458.2,1406.9 L458.2,1397.7 M458.2,1406.9 L450.2,1411.5 M458.2,1406.9 L466.2,1411.5 M458.2,1676.9 L458.2,1667.7 M458.2,1676.9 L450.2,1681.5 M458.2,1676.9 L466.2,1681.5 M489.6,1676.3 L489.6,1667.1 M489.6,1676.3 L481.6,1680.9 M489.6,1676.3 L497.6,1680.9 M489.6,1699.5 L489.6,1690.3 M489.6,1699.5 L481.6,1704.1 M489.6,1699.5 L497.6,1704.1 M521.5,1277.5 L521.5,1268.3 M521.5,1277.5 L513.5,1282.1 M521.5,1277.5 L529.5,1282.1 M521.5,1720.4 L521.5,1711.2 M521.5,1720.4 L513.5,1725.0 M521.5,1720.4 L529.5,1725.0 M710.7,1669.1 L710.7,1659.9 M710.7,1669.1 L702.7,1673.7 M710.7,1669.1 L718.7,1673.7 M710.7,1725.8 L710.7,1716.6 M710.7,1725.8 L702.7,1730.4 M710.7,1725.8 L718.7,1730.4 M710.7,1733.2 L710.7,1724.0 M710.7,1733.2 L702.7,1737.8 M710.7,1733.2 L718.7,1737.8 M774.3,1760.3 L774.3,1751.1 M774.3,1760.3 L766.3,1764.9 M774.3,1760.3 L782.3,1764.9 M806.3,1697.2 L806.3,1688.0 M806.3,1697.2 L798.3,1701.8 M806.3,1697.2 L814.3,1701.8" stroke="#ff7f0e" stroke-width="5.8" fill="none"/>
<path d="M204.4,1633.1 L195.2,1633.1 M204.4,1633.1 L209.0,1625.1 M204.4,1633.1 L209.0,1641.1 M236.3,1614.5 L227.1,1614.5 M236.3,1614.5 L240.9,1606.5 M236.3,1614.5 L240.9,1622.5 M299.4,1528.7 L290.2,1528.7 M299.4,1528.7 L304.0,1520.7 M299.4,1528.7 L304.0,1536.7 M331.3,1525.9 L322.1,1525.9 M331.3,1525.9 L335.9,1517.9 M331.3,1525.9 L335.9,1533.9 M331.3,1538.0 L322.1,1538.0 M331.3,1538.0 L335.9,1530.0 M331.3,1538.0 L335.9,1546.0 M363.3,1411.4 L354.1,1411.4 M363.3,1411.4 L367.9,1403.4 M363.3,1411.4 L367.9,1419.4 M363.3,1443.2 L354.1,1443.2 M363.3,1443.2 L367.9,1435.2 M363.3,1443.2 L367.9,1451.2 M363.3,1452.0 L354.1,1452.0 M363.3,1452.0 L367.9,1444.0 M363.3,1452.0 L367.9,1460.0 M363.3,1458.0 L354.1,1458.0 M363.3,1458.0 L367.9,1450.0 M363.3,1458.0 L367.9,1466.0 M363.3,1466.0 L354.1,1466.0 M363.3,1466.0 L367.9,1458.0 M363.3,1466.0 L367.9,1474.0 M363.3,1475.0 L354.1,1475.0 M363.3,1475.0 L367.9,1467.0 M363.3,1475.0 L367.9,1483.0 M363.3,1483.8 L354.1,1483.8 M363.3,1483.8 L367.9,1475.8 M363.3,1483.8 L367.9,1491.8 M363.3,1512.8 L354.1,1512.8 M363.3,1512.8 L367.9,1504.8 M363.3,1512.8 L367.9,1520.8 M394.6,1179.5 L385.4,1179.5 M394.6,1179.5 L399.2,1171.5 M394.6,1179.5 L399.2,1187.5 M394.6,1189.9 L385.4,1189.9 M394.6,1189.9 L399.2,1181.9 M394.6,1189.9 L399.2,1197.9 M394.6,1263.0 L385.4,1263.0 M394.6,1263.0 L399.2,1255.0 M394.6,1263.0 L399.2,1271.0 M394.6,1370.4 L385.4,1370.4 M394.6,1370.4 L399.2,1362.4 M394.6,1370.4 L399.2,1378.4 M394.6,1417.3 L385.4,1417.3 M394.6,1417.3 L399.2,1409.3 M394.6,1417.3 L399.2,1425.3 M394.6,1438.9 L385.4,1438.9 M394.6,1438.9 L399.2,1430.9 M394.6,1438.9 L399.2,1446.9 M394.6,1452.0 L385.4,1452.0 M394.6,1452.0 L399.2,1444.0 M394.6,1452.0 L399.2,1460.0 M394.6,1508.5 L385.4,1508.5 M394.6,1508.5 L399.2,1500.5 M394.6,1508.5 L399.2,1516.5 M394.6,1530.3 L385.4,1530.3 M394.6,1530.3 L399.2,1522.3 M394.6,1530.3 L399.2,1538.3 M394.6,1536.1 L385.4,1536.1 M394.6,1536.1 L399.2,1528.1 M394.6,1536.1 L399.2,1544.1 M394.6,1585.4 L385.4,1585.4 M394.6,1585.4 L399.2,1577.4 M394.6,1585.4 L399.2,1593.4 M394.6,1617.3 L385.4,1617.3 M394.6,1617.3 L399.2,1609.3 M394.6,1617.3 L399.2,1625.3 M426.8,1145.0 L417.6,1145.0 M426.8,1145.0 L431.4,1137.0 M426.8,1145.0 L431.4,1153.0 M426.8,1201.0 L417.6,1201.0 M426.8,1201.0 L431.4,1193.0 M426.8,1201.0 L431.4,1209.0 M426.8,1216.0 L417.6,1216.0 M426.8,1216.0 L431.4,1208.0 M426.8,1216.0 L431.4,1224.0 M426.8,1221.5 L417.6,1221.5 M426.8,1221.5 L431.4,1213.5 M426.8,1221.5 L431.4,1229.5 M426.8,1226.0 L417.6,1226.0 M426.8,1226.0 L431.4,1218.0 M426.8,1226.0 L431.4,1234.0 M426.8,1317.6 L417.6,1317.6 M426.8,1317.6 L431.4,1309.6 M426.8,1317.6 L431.4,1325.6 M426.8,1383.0 L417.6,1383.0 M426.8,1383.0 L431.4,1375.0 M426.8,1383.0 L431.4,1391.0 M426.8,1407.0 L417.6,1407.0 M426.8,1407.0 L431.4,1399.0 M426.8,1407.0 L431.4,1415.0 M426.8,1426.6 L417.6,1426.6 M426.8,1426.6 L431.4,1418.6 M426.8,1426.6 L431.4,1434.6 M426.8,1486.7 L417.6,1486.7 M426.8,1486.7 L431.4,1478.7 M426.8,1486.7 L431.4,1494.7 M458.6,1328.8 L449.4,1328.8 M458.6,1328.8 L463.2,1320.8 M458.6,1328.8 L463.2,1336.8 M458.6,1347.2 L449.4,1347.2 M458.6,1347.2 L463.2,1339.2 M458.6,1347.2 L463.2,1355.2 M489.8,1374.5 L480.6,1374.5 M489.8,1374.5 L494.4,1366.5 M489.8,1374.5 L494.4,1382.5 M489.8,1389.8 L480.6,1389.8 M489.8,1389.8 L494.4,1381.8 M489.8,1389.8 L494.4,1397.8 M489.8,1445.5 L480.6,1445.5 M489.8,1445.5 L494.4,1437.5 M489.8,1445.5 L494.4,1453.5 M489.8,1480.8 L480.6,1480.8 M489.8,1480.8 L494.4,1472.8 M489.8,1480.8 L494.4,1488.8 M520.7,1698.4 L511.5,1698.4 M520.7,1698.4 L525.3,1690.4 M520.7,1698.4 L525.3,1706.4 M806.3,1674.0 L797.1,1674.0 M806.3,1674.0 L810.9,1666.0 M806.3,1674.0 L810.9,1682.0" stroke="#2ca02c" stroke-width="5.8" fill="none"/>
<path d="M202.6,1660.0 L220.6,1648.8 L220.6,1671.2 Z M202.6,1673.0 L220.6,1661.8 L220.6,1684.2 Z M234.3,1659.5 L252.3,1648.3 L252.3,1670.7 Z M234.3,1686.3 L252.3,1675.1 L252.3,1697.5 Z M360.7,1540.4 L378.7,1529.2 L378.7,1551.6 Z M391.9,1383.0 L409.9,1371.8 L409.9,1394.2 Z M391.9,1427.0 L409.9,1415.8 L409.9,1438.2 Z M391.9,1440.0 L409.9,1428.8 L409.9,1451.2 Z M391.9,1453.0 L409.9,1441.8 L409.9,1464.2 Z M391.9,1481.0 L409.9,1469.8 L409.9,1492.2 Z M391.9,1497.0 L409.9,1485.8 L409.9,1508.2 Z M391.9,1512.0 L409.9,1500.8 L409.9,1523.2 Z M391.9,1546.0 L409.9,1534.8 L409.9,1557.2 Z M391.9,1560.0 L409.9,1548.8 L409.9,1571.2 Z M391.9,1574.0 L409.9,1562.8 L409.9,1585.2 Z M423.9,1272.5 L441.9,1261.3 L441.9,1283.7 Z M423.9,1353.6 L441.9,1342.4 L441.9,1364.8 Z M423.9,1389.0 L441.9,1377.8 L441.9,1400.2 Z M423.9,1401.0 L441.9,1389.8 L441.9,1412.2 Z M423.9,1429.0 L441.9,1417.8 L441.9,1440.2 Z M423.9,1476.0 L441.9,1464.8 L441.9,1487.2 Z M423.9,1489.0 L441.9,1477.8 L441.9,1500.2 Z M423.9,1503.0 L441.9,1491.8 L441.9,1514.2 Z M423.9,1572.3 L441.9,1561.1 L441.9,1583.5 Z M455.3,1324.5 L473.3,1313.3 L473.3,1335.7 Z M487.0,1621.0 L505.0,1609.8 L505.0,1632.2 Z M518.9,1658.7 L536.9,1647.5 L536.9,1669.9 Z M518.9,1672.0 L536.9,1660.8 L536.9,1683.2 Z" fill="#d62728" stroke="#d62728" stroke-width="0.8" stroke-linejoin="bevel"/>
</g>
<g stroke="#000" stroke-width="3.6">
<line x1="1031.0" y1="1553.8" x2="1031.0" y2="1871.1" stroke-linecap="square"/>
<line x1="1015.4" y1="1871.1" x2="1031.0" y2="1871.1"/>
<line x1="1015.4" y1="1791.8" x2="1031.0" y2="1791.8"/>
<line x1="1015.4" y1="1712.4" x2="1031.0" y2="1712.4"/>
<line x1="1015.4" y1="1633.1" x2="1031.0" y2="1633.1"/>
<line x1="1015.4" y1="1553.8" x2="1031.0" y2="1553.8"/>
</g>
<text x="974.25" y="1886.72" font-family='&quot;DejaVu Sans&quot;, &quot;Liberation Sans&quot;, sans-serif' font-size="43.50" fill="#000" color="#000">5</text>
<text x="973.00" y="1807.64" font-family='&quot;DejaVu Sans&quot;, &quot;Liberation Sans&quot;, sans-serif' font-size="43.50" fill="#000" color="#000">6</text>
<text x="974.00" y="1728.31" font-family='&quot;DejaVu Sans&quot;, &quot;Liberation Sans&quot;, sans-serif' font-size="43.50" fill="#000" color="#000">7</text>
<text x="973.25" y="1648.98" font-family='&quot;DejaVu Sans&quot;, &quot;Liberation Sans&quot;, sans-serif' font-size="43.50" fill="#000" color="#000">8</text>
<text x="973.50" y="1569.65" font-family='&quot;DejaVu Sans&quot;, &quot;Liberation Sans&quot;, sans-serif' font-size="43.50" fill="#000" color="#000">9</text>
<rect x="1045.2" y="1693.5" width="130.6" height="65.0" fill="#000"/>
<g stroke="#000" stroke-width="4.1">
<line x1="1110.5" y1="1673.2" x2="1110.5" y2="1693.5"/>
<line x1="1110.5" y1="1758.5" x2="1110.5" y2="1802.6"/>
<line x1="1076.9" y1="1673.2" x2="1144.1" y2="1673.2"/>
<line x1="1076.9" y1="1802.6" x2="1144.1" y2="1802.6"/>
</g>
<line x1="1042.6" y1="1719.9" x2="1178.4" y2="1719.9" stroke="#d62728" stroke-width="8.3"/>
<path d="M1110.5,1850.1 L1114.7,1857.4 L1110.5,1864.7 L1106.3,1857.4 Z" fill="#000"/>
<rect x="1203.7" y="1639.7" width="130.6" height="46.2" fill="#000"/>
<g stroke="#000" stroke-width="4.1">
<line x1="1269.0" y1="1584.4" x2="1269.0" y2="1639.7"/>
<line x1="1269.0" y1="1685.9" x2="1269.0" y2="1745.8"/>
<line x1="1235.4" y1="1584.4" x2="1302.6" y2="1584.4"/>
<line x1="1235.4" y1="1745.8" x2="1302.6" y2="1745.8"/>
</g>
<line x1="1201.1" y1="1669.7" x2="1336.9" y2="1669.7" stroke="#d62728" stroke-width="8.3"/>
<path d="M1269.0,1747.1 L1273.2,1754.4 L1269.0,1761.7 L1264.8,1754.4 Z" fill="#000"/>
<path d="M1269.0,1773.5 L1273.2,1780.8 L1269.0,1788.1 L1264.8,1780.8 Z" fill="#000"/>
<rect x="1361.9" y="1751.2" width="130.6" height="26.9" fill="#000"/>
<g stroke="#000" stroke-width="4.1">
<line x1="1427.2" y1="1723.7" x2="1427.2" y2="1751.2"/>
<line x1="1427.2" y1="1778.1" x2="1427.2" y2="1811.2"/>
<line x1="1393.6" y1="1723.7" x2="1460.8" y2="1723.7"/>
<line x1="1393.6" y1="1811.2" x2="1460.8" y2="1811.2"/>
</g>
<line x1="1359.3" y1="1766.2" x2="1495.1" y2="1766.2" stroke="#d62728" stroke-width="8.3"/>
<path d="M1427.2,1670.3 L1431.4,1677.6 L1427.2,1684.9 L1423.0,1677.6 Z" fill="#000"/>
<path d="M1427.2,1701.4 L1431.4,1708.7 L1427.2,1716.0 L1423.0,1708.7 Z" fill="#000"/>
<path d="M1427.2,1710.2 L1431.4,1717.5 L1427.2,1724.8 L1423.0,1717.5 Z" fill="#000"/>
<path d="M1427.2,1819.5 L1431.4,1826.8 L1427.2,1834.1 L1423.0,1826.8 Z" fill="#000"/>
<path d="M1427.2,1827.8 L1431.4,1835.1 L1427.2,1842.4 L1423.0,1835.1 Z" fill="#000"/>
<rect x="1520.9" y="1685.9" width="130.6" height="105.5" fill="#000"/>
<g stroke="#000" stroke-width="4.1">
<line x1="1586.2" y1="1628.0" x2="1586.2" y2="1685.9"/>
<line x1="1586.2" y1="1791.4" x2="1586.2" y2="1811.2"/>
<line x1="1552.6" y1="1628.0" x2="1619.8" y2="1628.0"/>
<line x1="1552.6" y1="1811.2" x2="1619.8" y2="1811.2"/>
</g>
<line x1="1518.3" y1="1745.8" x2="1654.1" y2="1745.8" stroke="#d62728" stroke-width="8.3"/>




<text x="1071.60" y="1913.30" font-family='&quot;DejaVu Sans&quot;, sans-serif' font-size="40.5" fill="#000">rat1</text>
<text x="1231.22" y="1913.30" font-family='&quot;DejaVu Sans&quot;, sans-serif' font-size="40.5" fill="#000">rat2</text>
<text x="1363.83" y="1913.30" font-family='&quot;DejaVu Sans&quot;, sans-serif' font-size="40.5" fill="#000">rat3[1]</text>
<text x="1526.92" y="1913.30" font-family='&quot;DejaVu Sans&quot;, sans-serif' font-size="40.5" fill="#000">rat3[2]</text>
<text transform="translate(938.05,1804.35) rotate(-90)" font-family='&quot;DejaVu Sans&quot;, &quot;Liberation Sans&quot;, sans-serif' font-size="42.60" fill="#000" color="#000">SNR (dB)</text>
<text x="4.35" y="82.00" font-family='&quot;DejaVu Sans&quot;, &quot;Liberation Sans&quot;, sans-serif' font-size="43.50" font-weight="bold" fill="#000" color="#000">(a)</text>
<text x="856.35" y="74.00" font-family='&quot;DejaVu Sans&quot;, &quot;Liberation Sans&quot;, sans-serif' font-size="43.50" font-weight="bold" fill="#000" color="#000">(b)</text>
<text x="856.35" y="847.90" font-family='&quot;DejaVu Sans&quot;, &quot;Liberation Sans&quot;, sans-serif' font-size="43.50" font-weight="bold" fill="#000" color="#000">(c)</text>
<text x="856.35" y="1216.90" font-family='&quot;DejaVu Sans&quot;, &quot;Liberation Sans&quot;, sans-serif' font-size="43.50" font-weight="bold" fill="#000" color="#000">(d)</text>
<text x="4.35" y="1135.20" font-family='&quot;DejaVu Sans&quot;, &quot;Liberation Sans&quot;, sans-serif' font-size="43.50" font-weight="bold" fill="#000" color="#000">(e)</text>
<text x="856.35" y="1562.00" font-family='&quot;DejaVu Sans&quot;, &quot;Liberation Sans&quot;, sans-serif' font-size="43.50" font-weight="bold" fill="#000" color="#000">(f)</text>
<text x="645.95" y="89.35" font-family='&quot;DejaVu Sans&quot;, &quot;Liberation Sans&quot;, sans-serif' font-size="41.30" fill="#999999" color="#999999">rat3[2]</text>
<text x="1513.95" y="850.65" font-family='&quot;DejaVu Sans&quot;, &quot;Liberation Sans&quot;, sans-serif' font-size="41.30" fill="#999999" color="#999999">rat3[2]</text>
<text x="1513.95" y="1208.65" font-family='&quot;DejaVu Sans&quot;, &quot;Liberation Sans&quot;, sans-serif' font-size="41.30" fill="#999999" color="#999999">rat3[2]</text>
<text x="983.75" y="23.25" font-family='&quot;DejaVu Sans&quot;, &quot;Liberation Sans&quot;, sans-serif' font-size="21.30" fill="#262626" color="#262626">1.0</text>
<text x="983.60" y="83.15" font-family='&quot;DejaVu Sans&quot;, &quot;Liberation Sans&quot;, sans-serif' font-size="21.30" fill="#262626" color="#262626">0.5</text>
<text x="983.60" y="143.25" font-family='&quot;DejaVu Sans&quot;, &quot;Liberation Sans&quot;, sans-serif' font-size="21.30" fill="#262626" color="#262626">0.0</text>
<text x="1264.45" y="795.20" font-family='&quot;DejaVu Sans&quot;, &quot;Liberation Sans&quot;, sans-serif' font-size="40.09" fill="#000" color="#000">Channels</text>
<text transform="translate(1694.50,314.75) rotate(90)" font-family='&quot;DejaVu Sans&quot;, &quot;Liberation Sans&quot;, sans-serif' font-size="39.05" fill="#000" color="#000">Channels</text>
</svg>
</body></html>
